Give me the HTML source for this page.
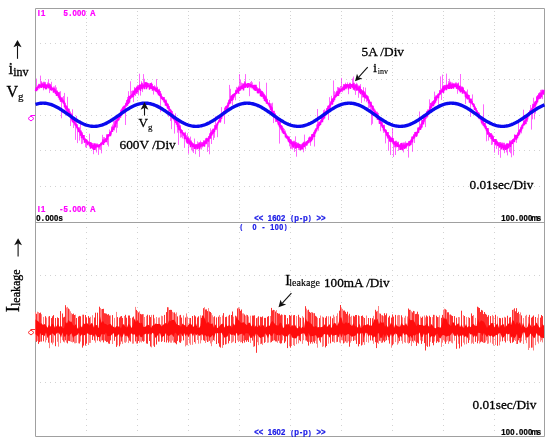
<!DOCTYPE html>
<html><head><meta charset="utf-8"><title>Oscilloscope</title>
<style>.s{fill:#000;stroke:#000;stroke-width:0.3px;font-family:'Liberation Serif',serif}html,body{margin:0;padding:0;background:#fff;width:550px;height:443px;overflow:hidden}svg{display:block}</style>
</head><body>
<svg width="550" height="443" viewBox="0 0 550 443"><path fill="#d2d2d2" d="M86 11h1v1h-1zM86 15h1v1h-1zM86 18h1v1h-1zM86 22h1v1h-1zM86 25h1v1h-1zM86 29h1v1h-1zM86 32h1v1h-1zM86 36h1v1h-1zM86 40h1v1h-1zM86 43h1v1h-1zM86 47h1v1h-1zM86 50h1v1h-1zM86 54h1v1h-1zM86 57h1v1h-1zM86 61h1v1h-1zM86 65h1v1h-1zM86 68h1v1h-1zM86 72h1v1h-1zM86 75h1v1h-1zM86 79h1v1h-1zM86 82h1v1h-1zM86 86h1v1h-1zM86 90h1v1h-1zM86 93h1v1h-1zM86 97h1v1h-1zM86 100h1v1h-1zM86 104h1v1h-1zM86 107h1v1h-1zM86 111h1v1h-1zM86 115h1v1h-1zM86 118h1v1h-1zM86 122h1v1h-1zM86 125h1v1h-1zM86 129h1v1h-1zM86 132h1v1h-1zM86 136h1v1h-1zM86 139h1v1h-1zM86 143h1v1h-1zM86 147h1v1h-1zM86 150h1v1h-1zM86 154h1v1h-1zM86 157h1v1h-1zM86 161h1v1h-1zM86 164h1v1h-1zM86 168h1v1h-1zM86 172h1v1h-1zM86 175h1v1h-1zM86 179h1v1h-1zM86 182h1v1h-1zM86 186h1v1h-1zM86 189h1v1h-1zM86 193h1v1h-1zM86 197h1v1h-1zM86 200h1v1h-1zM86 204h1v1h-1zM86 207h1v1h-1zM86 211h1v1h-1zM86 214h1v1h-1zM86 218h1v1h-1zM86 227h1v1h-1zM86 232h1v1h-1zM86 238h1v1h-1zM86 243h1v1h-1zM86 248h1v1h-1zM86 254h1v1h-1zM86 259h1v1h-1zM86 264h1v1h-1zM86 270h1v1h-1zM86 275h1v1h-1zM86 280h1v1h-1zM86 286h1v1h-1zM86 291h1v1h-1zM86 296h1v1h-1zM86 302h1v1h-1zM86 307h1v1h-1zM86 312h1v1h-1zM86 318h1v1h-1zM86 323h1v1h-1zM86 329h1v1h-1zM86 334h1v1h-1zM86 339h1v1h-1zM86 345h1v1h-1zM86 350h1v1h-1zM86 355h1v1h-1zM86 361h1v1h-1zM86 366h1v1h-1zM86 371h1v1h-1zM86 377h1v1h-1zM86 382h1v1h-1zM86 387h1v1h-1zM86 393h1v1h-1zM86 398h1v1h-1zM86 403h1v1h-1zM86 409h1v1h-1zM86 414h1v1h-1zM86 419h1v1h-1zM86 425h1v1h-1zM86 430h1v1h-1zM137 11h1v1h-1zM137 15h1v1h-1zM137 18h1v1h-1zM137 22h1v1h-1zM137 25h1v1h-1zM137 29h1v1h-1zM137 32h1v1h-1zM137 36h1v1h-1zM137 40h1v1h-1zM137 43h1v1h-1zM137 47h1v1h-1zM137 50h1v1h-1zM137 54h1v1h-1zM137 57h1v1h-1zM137 61h1v1h-1zM137 65h1v1h-1zM137 68h1v1h-1zM137 72h1v1h-1zM137 75h1v1h-1zM137 79h1v1h-1zM137 82h1v1h-1zM137 86h1v1h-1zM137 90h1v1h-1zM137 93h1v1h-1zM137 97h1v1h-1zM137 100h1v1h-1zM137 104h1v1h-1zM137 107h1v1h-1zM137 111h1v1h-1zM137 115h1v1h-1zM137 118h1v1h-1zM137 122h1v1h-1zM137 125h1v1h-1zM137 129h1v1h-1zM137 132h1v1h-1zM137 136h1v1h-1zM137 139h1v1h-1zM137 143h1v1h-1zM137 147h1v1h-1zM137 150h1v1h-1zM137 154h1v1h-1zM137 157h1v1h-1zM137 161h1v1h-1zM137 164h1v1h-1zM137 168h1v1h-1zM137 172h1v1h-1zM137 175h1v1h-1zM137 179h1v1h-1zM137 182h1v1h-1zM137 186h1v1h-1zM137 189h1v1h-1zM137 193h1v1h-1zM137 197h1v1h-1zM137 200h1v1h-1zM137 204h1v1h-1zM137 207h1v1h-1zM137 211h1v1h-1zM137 214h1v1h-1zM137 218h1v1h-1zM137 227h1v1h-1zM137 232h1v1h-1zM137 238h1v1h-1zM137 243h1v1h-1zM137 248h1v1h-1zM137 254h1v1h-1zM137 259h1v1h-1zM137 264h1v1h-1zM137 270h1v1h-1zM137 275h1v1h-1zM137 280h1v1h-1zM137 286h1v1h-1zM137 291h1v1h-1zM137 296h1v1h-1zM137 302h1v1h-1zM137 307h1v1h-1zM137 312h1v1h-1zM137 318h1v1h-1zM137 323h1v1h-1zM137 329h1v1h-1zM137 334h1v1h-1zM137 339h1v1h-1zM137 345h1v1h-1zM137 350h1v1h-1zM137 355h1v1h-1zM137 361h1v1h-1zM137 366h1v1h-1zM137 371h1v1h-1zM137 377h1v1h-1zM137 382h1v1h-1zM137 387h1v1h-1zM137 393h1v1h-1zM137 398h1v1h-1zM137 403h1v1h-1zM137 409h1v1h-1zM137 414h1v1h-1zM137 419h1v1h-1zM137 425h1v1h-1zM137 430h1v1h-1zM188 11h1v1h-1zM188 15h1v1h-1zM188 18h1v1h-1zM188 22h1v1h-1zM188 25h1v1h-1zM188 29h1v1h-1zM188 32h1v1h-1zM188 36h1v1h-1zM188 40h1v1h-1zM188 43h1v1h-1zM188 47h1v1h-1zM188 50h1v1h-1zM188 54h1v1h-1zM188 57h1v1h-1zM188 61h1v1h-1zM188 65h1v1h-1zM188 68h1v1h-1zM188 72h1v1h-1zM188 75h1v1h-1zM188 79h1v1h-1zM188 82h1v1h-1zM188 86h1v1h-1zM188 90h1v1h-1zM188 93h1v1h-1zM188 97h1v1h-1zM188 100h1v1h-1zM188 104h1v1h-1zM188 107h1v1h-1zM188 111h1v1h-1zM188 115h1v1h-1zM188 118h1v1h-1zM188 122h1v1h-1zM188 125h1v1h-1zM188 129h1v1h-1zM188 132h1v1h-1zM188 136h1v1h-1zM188 139h1v1h-1zM188 143h1v1h-1zM188 147h1v1h-1zM188 150h1v1h-1zM188 154h1v1h-1zM188 157h1v1h-1zM188 161h1v1h-1zM188 164h1v1h-1zM188 168h1v1h-1zM188 172h1v1h-1zM188 175h1v1h-1zM188 179h1v1h-1zM188 182h1v1h-1zM188 186h1v1h-1zM188 189h1v1h-1zM188 193h1v1h-1zM188 197h1v1h-1zM188 200h1v1h-1zM188 204h1v1h-1zM188 207h1v1h-1zM188 211h1v1h-1zM188 214h1v1h-1zM188 218h1v1h-1zM188 227h1v1h-1zM188 232h1v1h-1zM188 238h1v1h-1zM188 243h1v1h-1zM188 248h1v1h-1zM188 254h1v1h-1zM188 259h1v1h-1zM188 264h1v1h-1zM188 270h1v1h-1zM188 275h1v1h-1zM188 280h1v1h-1zM188 286h1v1h-1zM188 291h1v1h-1zM188 296h1v1h-1zM188 302h1v1h-1zM188 307h1v1h-1zM188 312h1v1h-1zM188 318h1v1h-1zM188 323h1v1h-1zM188 329h1v1h-1zM188 334h1v1h-1zM188 339h1v1h-1zM188 345h1v1h-1zM188 350h1v1h-1zM188 355h1v1h-1zM188 361h1v1h-1zM188 366h1v1h-1zM188 371h1v1h-1zM188 377h1v1h-1zM188 382h1v1h-1zM188 387h1v1h-1zM188 393h1v1h-1zM188 398h1v1h-1zM188 403h1v1h-1zM188 409h1v1h-1zM188 414h1v1h-1zM188 419h1v1h-1zM188 425h1v1h-1zM188 430h1v1h-1zM239 11h1v1h-1zM239 15h1v1h-1zM239 18h1v1h-1zM239 22h1v1h-1zM239 25h1v1h-1zM239 29h1v1h-1zM239 32h1v1h-1zM239 36h1v1h-1zM239 40h1v1h-1zM239 43h1v1h-1zM239 47h1v1h-1zM239 50h1v1h-1zM239 54h1v1h-1zM239 57h1v1h-1zM239 61h1v1h-1zM239 65h1v1h-1zM239 68h1v1h-1zM239 72h1v1h-1zM239 75h1v1h-1zM239 79h1v1h-1zM239 82h1v1h-1zM239 86h1v1h-1zM239 90h1v1h-1zM239 93h1v1h-1zM239 97h1v1h-1zM239 100h1v1h-1zM239 104h1v1h-1zM239 107h1v1h-1zM239 111h1v1h-1zM239 115h1v1h-1zM239 118h1v1h-1zM239 122h1v1h-1zM239 125h1v1h-1zM239 129h1v1h-1zM239 132h1v1h-1zM239 136h1v1h-1zM239 139h1v1h-1zM239 143h1v1h-1zM239 147h1v1h-1zM239 150h1v1h-1zM239 154h1v1h-1zM239 157h1v1h-1zM239 161h1v1h-1zM239 164h1v1h-1zM239 168h1v1h-1zM239 172h1v1h-1zM239 175h1v1h-1zM239 179h1v1h-1zM239 182h1v1h-1zM239 186h1v1h-1zM239 189h1v1h-1zM239 193h1v1h-1zM239 197h1v1h-1zM239 200h1v1h-1zM239 204h1v1h-1zM239 207h1v1h-1zM239 211h1v1h-1zM239 214h1v1h-1zM239 218h1v1h-1zM239 227h1v1h-1zM239 232h1v1h-1zM239 238h1v1h-1zM239 243h1v1h-1zM239 248h1v1h-1zM239 254h1v1h-1zM239 259h1v1h-1zM239 264h1v1h-1zM239 270h1v1h-1zM239 275h1v1h-1zM239 280h1v1h-1zM239 286h1v1h-1zM239 291h1v1h-1zM239 296h1v1h-1zM239 302h1v1h-1zM239 307h1v1h-1zM239 312h1v1h-1zM239 318h1v1h-1zM239 323h1v1h-1zM239 329h1v1h-1zM239 334h1v1h-1zM239 339h1v1h-1zM239 345h1v1h-1zM239 350h1v1h-1zM239 355h1v1h-1zM239 361h1v1h-1zM239 366h1v1h-1zM239 371h1v1h-1zM239 377h1v1h-1zM239 382h1v1h-1zM239 387h1v1h-1zM239 393h1v1h-1zM239 398h1v1h-1zM239 403h1v1h-1zM239 409h1v1h-1zM239 414h1v1h-1zM239 419h1v1h-1zM239 425h1v1h-1zM239 430h1v1h-1zM290 11h1v1h-1zM290 15h1v1h-1zM290 18h1v1h-1zM290 22h1v1h-1zM290 25h1v1h-1zM290 29h1v1h-1zM290 32h1v1h-1zM290 36h1v1h-1zM290 40h1v1h-1zM290 43h1v1h-1zM290 47h1v1h-1zM290 50h1v1h-1zM290 54h1v1h-1zM290 57h1v1h-1zM290 61h1v1h-1zM290 65h1v1h-1zM290 68h1v1h-1zM290 72h1v1h-1zM290 75h1v1h-1zM290 79h1v1h-1zM290 82h1v1h-1zM290 86h1v1h-1zM290 90h1v1h-1zM290 93h1v1h-1zM290 97h1v1h-1zM290 100h1v1h-1zM290 104h1v1h-1zM290 107h1v1h-1zM290 111h1v1h-1zM290 115h1v1h-1zM290 118h1v1h-1zM290 122h1v1h-1zM290 125h1v1h-1zM290 129h1v1h-1zM290 132h1v1h-1zM290 136h1v1h-1zM290 139h1v1h-1zM290 143h1v1h-1zM290 147h1v1h-1zM290 150h1v1h-1zM290 154h1v1h-1zM290 157h1v1h-1zM290 161h1v1h-1zM290 164h1v1h-1zM290 168h1v1h-1zM290 172h1v1h-1zM290 175h1v1h-1zM290 179h1v1h-1zM290 182h1v1h-1zM290 186h1v1h-1zM290 189h1v1h-1zM290 193h1v1h-1zM290 197h1v1h-1zM290 200h1v1h-1zM290 204h1v1h-1zM290 207h1v1h-1zM290 211h1v1h-1zM290 214h1v1h-1zM290 218h1v1h-1zM290 227h1v1h-1zM290 232h1v1h-1zM290 238h1v1h-1zM290 243h1v1h-1zM290 248h1v1h-1zM290 254h1v1h-1zM290 259h1v1h-1zM290 264h1v1h-1zM290 270h1v1h-1zM290 275h1v1h-1zM290 280h1v1h-1zM290 286h1v1h-1zM290 291h1v1h-1zM290 296h1v1h-1zM290 302h1v1h-1zM290 307h1v1h-1zM290 312h1v1h-1zM290 318h1v1h-1zM290 323h1v1h-1zM290 329h1v1h-1zM290 334h1v1h-1zM290 339h1v1h-1zM290 345h1v1h-1zM290 350h1v1h-1zM290 355h1v1h-1zM290 361h1v1h-1zM290 366h1v1h-1zM290 371h1v1h-1zM290 377h1v1h-1zM290 382h1v1h-1zM290 387h1v1h-1zM290 393h1v1h-1zM290 398h1v1h-1zM290 403h1v1h-1zM290 409h1v1h-1zM290 414h1v1h-1zM290 419h1v1h-1zM290 425h1v1h-1zM290 430h1v1h-1zM341 11h1v1h-1zM341 15h1v1h-1zM341 18h1v1h-1zM341 22h1v1h-1zM341 25h1v1h-1zM341 29h1v1h-1zM341 32h1v1h-1zM341 36h1v1h-1zM341 40h1v1h-1zM341 43h1v1h-1zM341 47h1v1h-1zM341 50h1v1h-1zM341 54h1v1h-1zM341 57h1v1h-1zM341 61h1v1h-1zM341 65h1v1h-1zM341 68h1v1h-1zM341 72h1v1h-1zM341 75h1v1h-1zM341 79h1v1h-1zM341 82h1v1h-1zM341 86h1v1h-1zM341 90h1v1h-1zM341 93h1v1h-1zM341 97h1v1h-1zM341 100h1v1h-1zM341 104h1v1h-1zM341 107h1v1h-1zM341 111h1v1h-1zM341 115h1v1h-1zM341 118h1v1h-1zM341 122h1v1h-1zM341 125h1v1h-1zM341 129h1v1h-1zM341 132h1v1h-1zM341 136h1v1h-1zM341 139h1v1h-1zM341 143h1v1h-1zM341 147h1v1h-1zM341 150h1v1h-1zM341 154h1v1h-1zM341 157h1v1h-1zM341 161h1v1h-1zM341 164h1v1h-1zM341 168h1v1h-1zM341 172h1v1h-1zM341 175h1v1h-1zM341 179h1v1h-1zM341 182h1v1h-1zM341 186h1v1h-1zM341 189h1v1h-1zM341 193h1v1h-1zM341 197h1v1h-1zM341 200h1v1h-1zM341 204h1v1h-1zM341 207h1v1h-1zM341 211h1v1h-1zM341 214h1v1h-1zM341 218h1v1h-1zM341 227h1v1h-1zM341 232h1v1h-1zM341 238h1v1h-1zM341 243h1v1h-1zM341 248h1v1h-1zM341 254h1v1h-1zM341 259h1v1h-1zM341 264h1v1h-1zM341 270h1v1h-1zM341 275h1v1h-1zM341 280h1v1h-1zM341 286h1v1h-1zM341 291h1v1h-1zM341 296h1v1h-1zM341 302h1v1h-1zM341 307h1v1h-1zM341 312h1v1h-1zM341 318h1v1h-1zM341 323h1v1h-1zM341 329h1v1h-1zM341 334h1v1h-1zM341 339h1v1h-1zM341 345h1v1h-1zM341 350h1v1h-1zM341 355h1v1h-1zM341 361h1v1h-1zM341 366h1v1h-1zM341 371h1v1h-1zM341 377h1v1h-1zM341 382h1v1h-1zM341 387h1v1h-1zM341 393h1v1h-1zM341 398h1v1h-1zM341 403h1v1h-1zM341 409h1v1h-1zM341 414h1v1h-1zM341 419h1v1h-1zM341 425h1v1h-1zM341 430h1v1h-1zM392 11h1v1h-1zM392 15h1v1h-1zM392 18h1v1h-1zM392 22h1v1h-1zM392 25h1v1h-1zM392 29h1v1h-1zM392 32h1v1h-1zM392 36h1v1h-1zM392 40h1v1h-1zM392 43h1v1h-1zM392 47h1v1h-1zM392 50h1v1h-1zM392 54h1v1h-1zM392 57h1v1h-1zM392 61h1v1h-1zM392 65h1v1h-1zM392 68h1v1h-1zM392 72h1v1h-1zM392 75h1v1h-1zM392 79h1v1h-1zM392 82h1v1h-1zM392 86h1v1h-1zM392 90h1v1h-1zM392 93h1v1h-1zM392 97h1v1h-1zM392 100h1v1h-1zM392 104h1v1h-1zM392 107h1v1h-1zM392 111h1v1h-1zM392 115h1v1h-1zM392 118h1v1h-1zM392 122h1v1h-1zM392 125h1v1h-1zM392 129h1v1h-1zM392 132h1v1h-1zM392 136h1v1h-1zM392 139h1v1h-1zM392 143h1v1h-1zM392 147h1v1h-1zM392 150h1v1h-1zM392 154h1v1h-1zM392 157h1v1h-1zM392 161h1v1h-1zM392 164h1v1h-1zM392 168h1v1h-1zM392 172h1v1h-1zM392 175h1v1h-1zM392 179h1v1h-1zM392 182h1v1h-1zM392 186h1v1h-1zM392 189h1v1h-1zM392 193h1v1h-1zM392 197h1v1h-1zM392 200h1v1h-1zM392 204h1v1h-1zM392 207h1v1h-1zM392 211h1v1h-1zM392 214h1v1h-1zM392 218h1v1h-1zM392 227h1v1h-1zM392 232h1v1h-1zM392 238h1v1h-1zM392 243h1v1h-1zM392 248h1v1h-1zM392 254h1v1h-1zM392 259h1v1h-1zM392 264h1v1h-1zM392 270h1v1h-1zM392 275h1v1h-1zM392 280h1v1h-1zM392 286h1v1h-1zM392 291h1v1h-1zM392 296h1v1h-1zM392 302h1v1h-1zM392 307h1v1h-1zM392 312h1v1h-1zM392 318h1v1h-1zM392 323h1v1h-1zM392 329h1v1h-1zM392 334h1v1h-1zM392 339h1v1h-1zM392 345h1v1h-1zM392 350h1v1h-1zM392 355h1v1h-1zM392 361h1v1h-1zM392 366h1v1h-1zM392 371h1v1h-1zM392 377h1v1h-1zM392 382h1v1h-1zM392 387h1v1h-1zM392 393h1v1h-1zM392 398h1v1h-1zM392 403h1v1h-1zM392 409h1v1h-1zM392 414h1v1h-1zM392 419h1v1h-1zM392 425h1v1h-1zM392 430h1v1h-1zM443 11h1v1h-1zM443 15h1v1h-1zM443 18h1v1h-1zM443 22h1v1h-1zM443 25h1v1h-1zM443 29h1v1h-1zM443 32h1v1h-1zM443 36h1v1h-1zM443 40h1v1h-1zM443 43h1v1h-1zM443 47h1v1h-1zM443 50h1v1h-1zM443 54h1v1h-1zM443 57h1v1h-1zM443 61h1v1h-1zM443 65h1v1h-1zM443 68h1v1h-1zM443 72h1v1h-1zM443 75h1v1h-1zM443 79h1v1h-1zM443 82h1v1h-1zM443 86h1v1h-1zM443 90h1v1h-1zM443 93h1v1h-1zM443 97h1v1h-1zM443 100h1v1h-1zM443 104h1v1h-1zM443 107h1v1h-1zM443 111h1v1h-1zM443 115h1v1h-1zM443 118h1v1h-1zM443 122h1v1h-1zM443 125h1v1h-1zM443 129h1v1h-1zM443 132h1v1h-1zM443 136h1v1h-1zM443 139h1v1h-1zM443 143h1v1h-1zM443 147h1v1h-1zM443 150h1v1h-1zM443 154h1v1h-1zM443 157h1v1h-1zM443 161h1v1h-1zM443 164h1v1h-1zM443 168h1v1h-1zM443 172h1v1h-1zM443 175h1v1h-1zM443 179h1v1h-1zM443 182h1v1h-1zM443 186h1v1h-1zM443 189h1v1h-1zM443 193h1v1h-1zM443 197h1v1h-1zM443 200h1v1h-1zM443 204h1v1h-1zM443 207h1v1h-1zM443 211h1v1h-1zM443 214h1v1h-1zM443 218h1v1h-1zM443 227h1v1h-1zM443 232h1v1h-1zM443 238h1v1h-1zM443 243h1v1h-1zM443 248h1v1h-1zM443 254h1v1h-1zM443 259h1v1h-1zM443 264h1v1h-1zM443 270h1v1h-1zM443 275h1v1h-1zM443 280h1v1h-1zM443 286h1v1h-1zM443 291h1v1h-1zM443 296h1v1h-1zM443 302h1v1h-1zM443 307h1v1h-1zM443 312h1v1h-1zM443 318h1v1h-1zM443 323h1v1h-1zM443 329h1v1h-1zM443 334h1v1h-1zM443 339h1v1h-1zM443 345h1v1h-1zM443 350h1v1h-1zM443 355h1v1h-1zM443 361h1v1h-1zM443 366h1v1h-1zM443 371h1v1h-1zM443 377h1v1h-1zM443 382h1v1h-1zM443 387h1v1h-1zM443 393h1v1h-1zM443 398h1v1h-1zM443 403h1v1h-1zM443 409h1v1h-1zM443 414h1v1h-1zM443 419h1v1h-1zM443 425h1v1h-1zM443 430h1v1h-1zM494 11h1v1h-1zM494 15h1v1h-1zM494 18h1v1h-1zM494 22h1v1h-1zM494 25h1v1h-1zM494 29h1v1h-1zM494 32h1v1h-1zM494 36h1v1h-1zM494 40h1v1h-1zM494 43h1v1h-1zM494 47h1v1h-1zM494 50h1v1h-1zM494 54h1v1h-1zM494 57h1v1h-1zM494 61h1v1h-1zM494 65h1v1h-1zM494 68h1v1h-1zM494 72h1v1h-1zM494 75h1v1h-1zM494 79h1v1h-1zM494 82h1v1h-1zM494 86h1v1h-1zM494 90h1v1h-1zM494 93h1v1h-1zM494 97h1v1h-1zM494 100h1v1h-1zM494 104h1v1h-1zM494 107h1v1h-1zM494 111h1v1h-1zM494 115h1v1h-1zM494 118h1v1h-1zM494 122h1v1h-1zM494 125h1v1h-1zM494 129h1v1h-1zM494 132h1v1h-1zM494 136h1v1h-1zM494 139h1v1h-1zM494 143h1v1h-1zM494 147h1v1h-1zM494 150h1v1h-1zM494 154h1v1h-1zM494 157h1v1h-1zM494 161h1v1h-1zM494 164h1v1h-1zM494 168h1v1h-1zM494 172h1v1h-1zM494 175h1v1h-1zM494 179h1v1h-1zM494 182h1v1h-1zM494 186h1v1h-1zM494 189h1v1h-1zM494 193h1v1h-1zM494 197h1v1h-1zM494 200h1v1h-1zM494 204h1v1h-1zM494 207h1v1h-1zM494 211h1v1h-1zM494 214h1v1h-1zM494 218h1v1h-1zM494 227h1v1h-1zM494 232h1v1h-1zM494 238h1v1h-1zM494 243h1v1h-1zM494 248h1v1h-1zM494 254h1v1h-1zM494 259h1v1h-1zM494 264h1v1h-1zM494 270h1v1h-1zM494 275h1v1h-1zM494 280h1v1h-1zM494 286h1v1h-1zM494 291h1v1h-1zM494 296h1v1h-1zM494 302h1v1h-1zM494 307h1v1h-1zM494 312h1v1h-1zM494 318h1v1h-1zM494 323h1v1h-1zM494 329h1v1h-1zM494 334h1v1h-1zM494 339h1v1h-1zM494 345h1v1h-1zM494 350h1v1h-1zM494 355h1v1h-1zM494 361h1v1h-1zM494 366h1v1h-1zM494 371h1v1h-1zM494 377h1v1h-1zM494 382h1v1h-1zM494 387h1v1h-1zM494 393h1v1h-1zM494 398h1v1h-1zM494 403h1v1h-1zM494 409h1v1h-1zM494 414h1v1h-1zM494 419h1v1h-1zM494 425h1v1h-1zM494 430h1v1h-1zM40 43h1v1h-1zM45 43h1v1h-1zM50 43h1v1h-1zM55 43h1v1h-1zM60 43h1v1h-1zM65 43h1v1h-1zM70 43h1v1h-1zM75 43h1v1h-1zM80 43h1v1h-1zM86 43h1v1h-1zM91 43h1v1h-1zM96 43h1v1h-1zM101 43h1v1h-1zM106 43h1v1h-1zM111 43h1v1h-1zM116 43h1v1h-1zM121 43h1v1h-1zM126 43h1v1h-1zM131 43h1v1h-1zM137 43h1v1h-1zM142 43h1v1h-1zM147 43h1v1h-1zM152 43h1v1h-1zM157 43h1v1h-1zM162 43h1v1h-1zM167 43h1v1h-1zM172 43h1v1h-1zM177 43h1v1h-1zM182 43h1v1h-1zM188 43h1v1h-1zM193 43h1v1h-1zM198 43h1v1h-1zM203 43h1v1h-1zM208 43h1v1h-1zM213 43h1v1h-1zM218 43h1v1h-1zM223 43h1v1h-1zM228 43h1v1h-1zM233 43h1v1h-1zM239 43h1v1h-1zM244 43h1v1h-1zM249 43h1v1h-1zM254 43h1v1h-1zM259 43h1v1h-1zM264 43h1v1h-1zM269 43h1v1h-1zM274 43h1v1h-1zM279 43h1v1h-1zM284 43h1v1h-1zM290 43h1v1h-1zM295 43h1v1h-1zM300 43h1v1h-1zM305 43h1v1h-1zM310 43h1v1h-1zM315 43h1v1h-1zM320 43h1v1h-1zM325 43h1v1h-1zM330 43h1v1h-1zM335 43h1v1h-1zM341 43h1v1h-1zM346 43h1v1h-1zM351 43h1v1h-1zM356 43h1v1h-1zM361 43h1v1h-1zM366 43h1v1h-1zM371 43h1v1h-1zM376 43h1v1h-1zM381 43h1v1h-1zM386 43h1v1h-1zM392 43h1v1h-1zM397 43h1v1h-1zM402 43h1v1h-1zM407 43h1v1h-1zM412 43h1v1h-1zM417 43h1v1h-1zM422 43h1v1h-1zM427 43h1v1h-1zM432 43h1v1h-1zM437 43h1v1h-1zM443 43h1v1h-1zM448 43h1v1h-1zM453 43h1v1h-1zM458 43h1v1h-1zM463 43h1v1h-1zM468 43h1v1h-1zM473 43h1v1h-1zM478 43h1v1h-1zM483 43h1v1h-1zM488 43h1v1h-1zM494 43h1v1h-1zM499 43h1v1h-1zM504 43h1v1h-1zM509 43h1v1h-1zM514 43h1v1h-1zM519 43h1v1h-1zM524 43h1v1h-1zM529 43h1v1h-1zM534 43h1v1h-1zM539 43h1v1h-1zM40 79h1v1h-1zM45 79h1v1h-1zM50 79h1v1h-1zM55 79h1v1h-1zM60 79h1v1h-1zM65 79h1v1h-1zM70 79h1v1h-1zM75 79h1v1h-1zM80 79h1v1h-1zM86 79h1v1h-1zM91 79h1v1h-1zM96 79h1v1h-1zM101 79h1v1h-1zM106 79h1v1h-1zM111 79h1v1h-1zM116 79h1v1h-1zM121 79h1v1h-1zM126 79h1v1h-1zM131 79h1v1h-1zM137 79h1v1h-1zM142 79h1v1h-1zM147 79h1v1h-1zM152 79h1v1h-1zM157 79h1v1h-1zM162 79h1v1h-1zM167 79h1v1h-1zM172 79h1v1h-1zM177 79h1v1h-1zM182 79h1v1h-1zM188 79h1v1h-1zM193 79h1v1h-1zM198 79h1v1h-1zM203 79h1v1h-1zM208 79h1v1h-1zM213 79h1v1h-1zM218 79h1v1h-1zM223 79h1v1h-1zM228 79h1v1h-1zM233 79h1v1h-1zM239 79h1v1h-1zM244 79h1v1h-1zM249 79h1v1h-1zM254 79h1v1h-1zM259 79h1v1h-1zM264 79h1v1h-1zM269 79h1v1h-1zM274 79h1v1h-1zM279 79h1v1h-1zM284 79h1v1h-1zM290 79h1v1h-1zM295 79h1v1h-1zM300 79h1v1h-1zM305 79h1v1h-1zM310 79h1v1h-1zM315 79h1v1h-1zM320 79h1v1h-1zM325 79h1v1h-1zM330 79h1v1h-1zM335 79h1v1h-1zM341 79h1v1h-1zM346 79h1v1h-1zM351 79h1v1h-1zM356 79h1v1h-1zM361 79h1v1h-1zM366 79h1v1h-1zM371 79h1v1h-1zM376 79h1v1h-1zM381 79h1v1h-1zM386 79h1v1h-1zM392 79h1v1h-1zM397 79h1v1h-1zM402 79h1v1h-1zM407 79h1v1h-1zM412 79h1v1h-1zM417 79h1v1h-1zM422 79h1v1h-1zM427 79h1v1h-1zM432 79h1v1h-1zM437 79h1v1h-1zM443 79h1v1h-1zM448 79h1v1h-1zM453 79h1v1h-1zM458 79h1v1h-1zM463 79h1v1h-1zM468 79h1v1h-1zM473 79h1v1h-1zM478 79h1v1h-1zM483 79h1v1h-1zM488 79h1v1h-1zM494 79h1v1h-1zM499 79h1v1h-1zM504 79h1v1h-1zM509 79h1v1h-1zM514 79h1v1h-1zM519 79h1v1h-1zM524 79h1v1h-1zM529 79h1v1h-1zM534 79h1v1h-1zM539 79h1v1h-1zM40 115h1v1h-1zM45 115h1v1h-1zM50 115h1v1h-1zM55 115h1v1h-1zM60 115h1v1h-1zM65 115h1v1h-1zM70 115h1v1h-1zM75 115h1v1h-1zM80 115h1v1h-1zM86 115h1v1h-1zM91 115h1v1h-1zM96 115h1v1h-1zM101 115h1v1h-1zM106 115h1v1h-1zM111 115h1v1h-1zM116 115h1v1h-1zM121 115h1v1h-1zM126 115h1v1h-1zM131 115h1v1h-1zM137 115h1v1h-1zM142 115h1v1h-1zM147 115h1v1h-1zM152 115h1v1h-1zM157 115h1v1h-1zM162 115h1v1h-1zM167 115h1v1h-1zM172 115h1v1h-1zM177 115h1v1h-1zM182 115h1v1h-1zM188 115h1v1h-1zM193 115h1v1h-1zM198 115h1v1h-1zM203 115h1v1h-1zM208 115h1v1h-1zM213 115h1v1h-1zM218 115h1v1h-1zM223 115h1v1h-1zM228 115h1v1h-1zM233 115h1v1h-1zM239 115h1v1h-1zM244 115h1v1h-1zM249 115h1v1h-1zM254 115h1v1h-1zM259 115h1v1h-1zM264 115h1v1h-1zM269 115h1v1h-1zM274 115h1v1h-1zM279 115h1v1h-1zM284 115h1v1h-1zM290 115h1v1h-1zM295 115h1v1h-1zM300 115h1v1h-1zM305 115h1v1h-1zM310 115h1v1h-1zM315 115h1v1h-1zM320 115h1v1h-1zM325 115h1v1h-1zM330 115h1v1h-1zM335 115h1v1h-1zM341 115h1v1h-1zM346 115h1v1h-1zM351 115h1v1h-1zM356 115h1v1h-1zM361 115h1v1h-1zM366 115h1v1h-1zM371 115h1v1h-1zM376 115h1v1h-1zM381 115h1v1h-1zM386 115h1v1h-1zM392 115h1v1h-1zM397 115h1v1h-1zM402 115h1v1h-1zM407 115h1v1h-1zM412 115h1v1h-1zM417 115h1v1h-1zM422 115h1v1h-1zM427 115h1v1h-1zM432 115h1v1h-1zM437 115h1v1h-1zM443 115h1v1h-1zM448 115h1v1h-1zM453 115h1v1h-1zM458 115h1v1h-1zM463 115h1v1h-1zM468 115h1v1h-1zM473 115h1v1h-1zM478 115h1v1h-1zM483 115h1v1h-1zM488 115h1v1h-1zM494 115h1v1h-1zM499 115h1v1h-1zM504 115h1v1h-1zM509 115h1v1h-1zM514 115h1v1h-1zM519 115h1v1h-1zM524 115h1v1h-1zM529 115h1v1h-1zM534 115h1v1h-1zM539 115h1v1h-1zM40 150h1v1h-1zM45 150h1v1h-1zM50 150h1v1h-1zM55 150h1v1h-1zM60 150h1v1h-1zM65 150h1v1h-1zM70 150h1v1h-1zM75 150h1v1h-1zM80 150h1v1h-1zM86 150h1v1h-1zM91 150h1v1h-1zM96 150h1v1h-1zM101 150h1v1h-1zM106 150h1v1h-1zM111 150h1v1h-1zM116 150h1v1h-1zM121 150h1v1h-1zM126 150h1v1h-1zM131 150h1v1h-1zM137 150h1v1h-1zM142 150h1v1h-1zM147 150h1v1h-1zM152 150h1v1h-1zM157 150h1v1h-1zM162 150h1v1h-1zM167 150h1v1h-1zM172 150h1v1h-1zM177 150h1v1h-1zM182 150h1v1h-1zM188 150h1v1h-1zM193 150h1v1h-1zM198 150h1v1h-1zM203 150h1v1h-1zM208 150h1v1h-1zM213 150h1v1h-1zM218 150h1v1h-1zM223 150h1v1h-1zM228 150h1v1h-1zM233 150h1v1h-1zM239 150h1v1h-1zM244 150h1v1h-1zM249 150h1v1h-1zM254 150h1v1h-1zM259 150h1v1h-1zM264 150h1v1h-1zM269 150h1v1h-1zM274 150h1v1h-1zM279 150h1v1h-1zM284 150h1v1h-1zM290 150h1v1h-1zM295 150h1v1h-1zM300 150h1v1h-1zM305 150h1v1h-1zM310 150h1v1h-1zM315 150h1v1h-1zM320 150h1v1h-1zM325 150h1v1h-1zM330 150h1v1h-1zM335 150h1v1h-1zM341 150h1v1h-1zM346 150h1v1h-1zM351 150h1v1h-1zM356 150h1v1h-1zM361 150h1v1h-1zM366 150h1v1h-1zM371 150h1v1h-1zM376 150h1v1h-1zM381 150h1v1h-1zM386 150h1v1h-1zM392 150h1v1h-1zM397 150h1v1h-1zM402 150h1v1h-1zM407 150h1v1h-1zM412 150h1v1h-1zM417 150h1v1h-1zM422 150h1v1h-1zM427 150h1v1h-1zM432 150h1v1h-1zM437 150h1v1h-1zM443 150h1v1h-1zM448 150h1v1h-1zM453 150h1v1h-1zM458 150h1v1h-1zM463 150h1v1h-1zM468 150h1v1h-1zM473 150h1v1h-1zM478 150h1v1h-1zM483 150h1v1h-1zM488 150h1v1h-1zM494 150h1v1h-1zM499 150h1v1h-1zM504 150h1v1h-1zM509 150h1v1h-1zM514 150h1v1h-1zM519 150h1v1h-1zM524 150h1v1h-1zM529 150h1v1h-1zM534 150h1v1h-1zM539 150h1v1h-1zM40 186h1v1h-1zM45 186h1v1h-1zM50 186h1v1h-1zM55 186h1v1h-1zM60 186h1v1h-1zM65 186h1v1h-1zM70 186h1v1h-1zM75 186h1v1h-1zM80 186h1v1h-1zM86 186h1v1h-1zM91 186h1v1h-1zM96 186h1v1h-1zM101 186h1v1h-1zM106 186h1v1h-1zM111 186h1v1h-1zM116 186h1v1h-1zM121 186h1v1h-1zM126 186h1v1h-1zM131 186h1v1h-1zM137 186h1v1h-1zM142 186h1v1h-1zM147 186h1v1h-1zM152 186h1v1h-1zM157 186h1v1h-1zM162 186h1v1h-1zM167 186h1v1h-1zM172 186h1v1h-1zM177 186h1v1h-1zM182 186h1v1h-1zM188 186h1v1h-1zM193 186h1v1h-1zM198 186h1v1h-1zM203 186h1v1h-1zM208 186h1v1h-1zM213 186h1v1h-1zM218 186h1v1h-1zM223 186h1v1h-1zM228 186h1v1h-1zM233 186h1v1h-1zM239 186h1v1h-1zM244 186h1v1h-1zM249 186h1v1h-1zM254 186h1v1h-1zM259 186h1v1h-1zM264 186h1v1h-1zM269 186h1v1h-1zM274 186h1v1h-1zM279 186h1v1h-1zM284 186h1v1h-1zM290 186h1v1h-1zM295 186h1v1h-1zM300 186h1v1h-1zM305 186h1v1h-1zM310 186h1v1h-1zM315 186h1v1h-1zM320 186h1v1h-1zM325 186h1v1h-1zM330 186h1v1h-1zM335 186h1v1h-1zM341 186h1v1h-1zM346 186h1v1h-1zM351 186h1v1h-1zM356 186h1v1h-1zM361 186h1v1h-1zM366 186h1v1h-1zM371 186h1v1h-1zM376 186h1v1h-1zM381 186h1v1h-1zM386 186h1v1h-1zM392 186h1v1h-1zM397 186h1v1h-1zM402 186h1v1h-1zM407 186h1v1h-1zM412 186h1v1h-1zM417 186h1v1h-1zM422 186h1v1h-1zM427 186h1v1h-1zM432 186h1v1h-1zM437 186h1v1h-1zM443 186h1v1h-1zM448 186h1v1h-1zM453 186h1v1h-1zM458 186h1v1h-1zM463 186h1v1h-1zM468 186h1v1h-1zM473 186h1v1h-1zM478 186h1v1h-1zM483 186h1v1h-1zM488 186h1v1h-1zM494 186h1v1h-1zM499 186h1v1h-1zM504 186h1v1h-1zM509 186h1v1h-1zM514 186h1v1h-1zM519 186h1v1h-1zM524 186h1v1h-1zM529 186h1v1h-1zM534 186h1v1h-1zM539 186h1v1h-1zM40 275h1v1h-1zM45 275h1v1h-1zM50 275h1v1h-1zM55 275h1v1h-1zM60 275h1v1h-1zM65 275h1v1h-1zM70 275h1v1h-1zM75 275h1v1h-1zM80 275h1v1h-1zM86 275h1v1h-1zM91 275h1v1h-1zM96 275h1v1h-1zM101 275h1v1h-1zM106 275h1v1h-1zM111 275h1v1h-1zM116 275h1v1h-1zM121 275h1v1h-1zM126 275h1v1h-1zM131 275h1v1h-1zM137 275h1v1h-1zM142 275h1v1h-1zM147 275h1v1h-1zM152 275h1v1h-1zM157 275h1v1h-1zM162 275h1v1h-1zM167 275h1v1h-1zM172 275h1v1h-1zM177 275h1v1h-1zM182 275h1v1h-1zM188 275h1v1h-1zM193 275h1v1h-1zM198 275h1v1h-1zM203 275h1v1h-1zM208 275h1v1h-1zM213 275h1v1h-1zM218 275h1v1h-1zM223 275h1v1h-1zM228 275h1v1h-1zM233 275h1v1h-1zM239 275h1v1h-1zM244 275h1v1h-1zM249 275h1v1h-1zM254 275h1v1h-1zM259 275h1v1h-1zM264 275h1v1h-1zM269 275h1v1h-1zM274 275h1v1h-1zM279 275h1v1h-1zM284 275h1v1h-1zM290 275h1v1h-1zM295 275h1v1h-1zM300 275h1v1h-1zM305 275h1v1h-1zM310 275h1v1h-1zM315 275h1v1h-1zM320 275h1v1h-1zM325 275h1v1h-1zM330 275h1v1h-1zM335 275h1v1h-1zM341 275h1v1h-1zM346 275h1v1h-1zM351 275h1v1h-1zM356 275h1v1h-1zM361 275h1v1h-1zM366 275h1v1h-1zM371 275h1v1h-1zM376 275h1v1h-1zM381 275h1v1h-1zM386 275h1v1h-1zM392 275h1v1h-1zM397 275h1v1h-1zM402 275h1v1h-1zM407 275h1v1h-1zM412 275h1v1h-1zM417 275h1v1h-1zM422 275h1v1h-1zM427 275h1v1h-1zM432 275h1v1h-1zM437 275h1v1h-1zM443 275h1v1h-1zM448 275h1v1h-1zM453 275h1v1h-1zM458 275h1v1h-1zM463 275h1v1h-1zM468 275h1v1h-1zM473 275h1v1h-1zM478 275h1v1h-1zM483 275h1v1h-1zM488 275h1v1h-1zM494 275h1v1h-1zM499 275h1v1h-1zM504 275h1v1h-1zM509 275h1v1h-1zM514 275h1v1h-1zM519 275h1v1h-1zM524 275h1v1h-1zM529 275h1v1h-1zM534 275h1v1h-1zM539 275h1v1h-1zM40 329h1v1h-1zM45 329h1v1h-1zM50 329h1v1h-1zM55 329h1v1h-1zM60 329h1v1h-1zM65 329h1v1h-1zM70 329h1v1h-1zM75 329h1v1h-1zM80 329h1v1h-1zM86 329h1v1h-1zM91 329h1v1h-1zM96 329h1v1h-1zM101 329h1v1h-1zM106 329h1v1h-1zM111 329h1v1h-1zM116 329h1v1h-1zM121 329h1v1h-1zM126 329h1v1h-1zM131 329h1v1h-1zM137 329h1v1h-1zM142 329h1v1h-1zM147 329h1v1h-1zM152 329h1v1h-1zM157 329h1v1h-1zM162 329h1v1h-1zM167 329h1v1h-1zM172 329h1v1h-1zM177 329h1v1h-1zM182 329h1v1h-1zM188 329h1v1h-1zM193 329h1v1h-1zM198 329h1v1h-1zM203 329h1v1h-1zM208 329h1v1h-1zM213 329h1v1h-1zM218 329h1v1h-1zM223 329h1v1h-1zM228 329h1v1h-1zM233 329h1v1h-1zM239 329h1v1h-1zM244 329h1v1h-1zM249 329h1v1h-1zM254 329h1v1h-1zM259 329h1v1h-1zM264 329h1v1h-1zM269 329h1v1h-1zM274 329h1v1h-1zM279 329h1v1h-1zM284 329h1v1h-1zM290 329h1v1h-1zM295 329h1v1h-1zM300 329h1v1h-1zM305 329h1v1h-1zM310 329h1v1h-1zM315 329h1v1h-1zM320 329h1v1h-1zM325 329h1v1h-1zM330 329h1v1h-1zM335 329h1v1h-1zM341 329h1v1h-1zM346 329h1v1h-1zM351 329h1v1h-1zM356 329h1v1h-1zM361 329h1v1h-1zM366 329h1v1h-1zM371 329h1v1h-1zM376 329h1v1h-1zM381 329h1v1h-1zM386 329h1v1h-1zM392 329h1v1h-1zM397 329h1v1h-1zM402 329h1v1h-1zM407 329h1v1h-1zM412 329h1v1h-1zM417 329h1v1h-1zM422 329h1v1h-1zM427 329h1v1h-1zM432 329h1v1h-1zM437 329h1v1h-1zM443 329h1v1h-1zM448 329h1v1h-1zM453 329h1v1h-1zM458 329h1v1h-1zM463 329h1v1h-1zM468 329h1v1h-1zM473 329h1v1h-1zM478 329h1v1h-1zM483 329h1v1h-1zM488 329h1v1h-1zM494 329h1v1h-1zM499 329h1v1h-1zM504 329h1v1h-1zM509 329h1v1h-1zM514 329h1v1h-1zM519 329h1v1h-1zM524 329h1v1h-1zM529 329h1v1h-1zM534 329h1v1h-1zM539 329h1v1h-1zM40 382h1v1h-1zM45 382h1v1h-1zM50 382h1v1h-1zM55 382h1v1h-1zM60 382h1v1h-1zM65 382h1v1h-1zM70 382h1v1h-1zM75 382h1v1h-1zM80 382h1v1h-1zM86 382h1v1h-1zM91 382h1v1h-1zM96 382h1v1h-1zM101 382h1v1h-1zM106 382h1v1h-1zM111 382h1v1h-1zM116 382h1v1h-1zM121 382h1v1h-1zM126 382h1v1h-1zM131 382h1v1h-1zM137 382h1v1h-1zM142 382h1v1h-1zM147 382h1v1h-1zM152 382h1v1h-1zM157 382h1v1h-1zM162 382h1v1h-1zM167 382h1v1h-1zM172 382h1v1h-1zM177 382h1v1h-1zM182 382h1v1h-1zM188 382h1v1h-1zM193 382h1v1h-1zM198 382h1v1h-1zM203 382h1v1h-1zM208 382h1v1h-1zM213 382h1v1h-1zM218 382h1v1h-1zM223 382h1v1h-1zM228 382h1v1h-1zM233 382h1v1h-1zM239 382h1v1h-1zM244 382h1v1h-1zM249 382h1v1h-1zM254 382h1v1h-1zM259 382h1v1h-1zM264 382h1v1h-1zM269 382h1v1h-1zM274 382h1v1h-1zM279 382h1v1h-1zM284 382h1v1h-1zM290 382h1v1h-1zM295 382h1v1h-1zM300 382h1v1h-1zM305 382h1v1h-1zM310 382h1v1h-1zM315 382h1v1h-1zM320 382h1v1h-1zM325 382h1v1h-1zM330 382h1v1h-1zM335 382h1v1h-1zM341 382h1v1h-1zM346 382h1v1h-1zM351 382h1v1h-1zM356 382h1v1h-1zM361 382h1v1h-1zM366 382h1v1h-1zM371 382h1v1h-1zM376 382h1v1h-1zM381 382h1v1h-1zM386 382h1v1h-1zM392 382h1v1h-1zM397 382h1v1h-1zM402 382h1v1h-1zM407 382h1v1h-1zM412 382h1v1h-1zM417 382h1v1h-1zM422 382h1v1h-1zM427 382h1v1h-1zM432 382h1v1h-1zM437 382h1v1h-1zM443 382h1v1h-1zM448 382h1v1h-1zM453 382h1v1h-1zM458 382h1v1h-1zM463 382h1v1h-1zM468 382h1v1h-1zM473 382h1v1h-1zM478 382h1v1h-1zM483 382h1v1h-1zM488 382h1v1h-1zM494 382h1v1h-1zM499 382h1v1h-1zM504 382h1v1h-1zM509 382h1v1h-1zM514 382h1v1h-1zM519 382h1v1h-1zM524 382h1v1h-1zM529 382h1v1h-1zM534 382h1v1h-1zM539 382h1v1h-1z"/>
<path fill="none" stroke="#a0a0a0" stroke-width="1" d="M35.5 8.5H544.5V436.5H35.5Z M35.5 222.5H544.5"/>
<polyline fill="none" stroke="#ff00ff" stroke-width="1.4" stroke-linejoin="bevel" points="35.5,91.0 36.0,87.6 36.5,91.2 37.0,87.0 37.5,90.1 38.0,85.5 38.5,88.1 39.0,84.5 39.5,87.5 40.0,84.3 40.5,87.2 41.0,84.9 41.5,87.9 42.0,82.5 42.5,86.8 43.0,84.1 43.5,88.2 44.0,81.9 44.5,88.0 45.0,83.5 45.5,89.3 46.0,84.7 46.5,89.1 47.0,84.2 47.5,87.3 48.0,85.1 48.5,88.2 49.0,83.4 49.5,88.2 50.0,84.6 50.5,90.2 51.0,85.9 51.5,90.6 52.0,87.5 52.5,89.9 53.0,87.9 53.5,92.6 54.0,88.1 54.5,92.4 55.0,88.7 55.5,93.9 56.0,90.6 56.5,96.0 57.0,90.5 57.5,95.6 58.0,92.1 58.5,97.7 59.0,92.6 59.5,99.7 60.0,95.7 60.5,101.8 61.0,97.7 61.5,101.6 62.0,97.3 62.5,102.4 63.0,99.7 63.5,103.7 64.0,100.8 64.5,107.5 65.0,102.7 65.5,109.5 66.0,105.2 66.5,110.8 67.0,106.2 67.5,112.2 68.0,108.4 68.5,114.8 69.0,108.8 69.5,115.6 70.0,111.5 70.5,116.2 71.0,113.2 71.5,119.8 72.0,114.2 72.5,122.2 73.0,118.2 73.5,122.8 74.0,119.0 74.5,123.6 75.0,121.4 75.5,125.9 76.0,124.3 76.5,127.4 77.0,124.2 77.5,129.4 78.0,127.5 78.5,131.9 79.0,127.4 79.5,132.7 80.0,130.3 80.5,135.7 81.0,130.6 81.5,138.1 82.0,132.2 82.5,138.0 83.0,135.0 83.5,139.6 84.0,135.0 84.5,142.8 85.0,138.5 85.5,141.7 86.0,139.4 86.5,143.0 87.0,139.7 87.5,145.1 88.0,141.4 88.5,144.2 89.0,141.8 89.5,146.2 90.0,142.1 90.5,148.6 91.0,142.4 91.5,147.9 92.0,143.1 92.5,148.8 93.0,145.2 93.5,149.8 94.0,143.2 94.5,149.9 95.0,143.3 95.5,148.5 96.0,144.5 96.5,147.5 97.0,143.6 97.5,147.2 98.0,145.0 98.5,147.3 99.0,144.4 99.5,147.2 100.0,144.1 100.5,145.6 101.0,143.2 101.5,145.2 102.0,141.8 102.5,144.1 103.0,139.3 103.5,144.9 104.0,140.5 104.5,142.8 105.0,138.8 105.5,141.9 106.0,138.2 106.5,142.1 107.0,134.3 107.5,139.6 108.0,134.4 108.5,137.0 109.0,134.1 109.5,136.2 110.0,132.0 110.5,136.1 111.0,130.7 111.5,132.0 112.0,126.6 112.5,131.8 113.0,127.3 113.5,130.0 114.0,125.8 114.5,128.2 115.0,121.1 115.5,127.3 116.0,120.1 116.5,123.7 117.0,119.2 117.5,121.5 118.0,116.1 118.5,120.7 119.0,114.2 119.5,118.2 120.0,114.0 120.5,117.7 121.0,109.8 121.5,116.0 122.0,108.5 122.5,114.0 123.0,106.8 123.5,110.4 124.0,105.7 124.5,109.0 125.0,105.4 125.5,106.3 126.0,102.9 126.5,105.3 127.0,100.0 127.5,105.7 128.0,99.1 128.5,104.0 129.0,95.9 129.5,102.6 130.0,96.2 130.5,98.9 131.0,95.2 131.5,97.4 132.0,93.9 132.5,97.4 133.0,90.6 133.5,96.8 134.0,90.6 134.5,95.0 135.0,88.5 135.5,92.3 136.0,87.9 136.5,93.7 137.0,86.6 137.5,92.4 138.0,86.7 138.5,89.8 139.0,85.0 139.5,89.6 140.0,84.3 140.5,90.9 141.0,84.9 141.5,88.6 142.0,82.8 142.5,89.2 143.0,84.7 143.5,87.1 144.0,84.5 144.5,89.2 145.0,82.4 145.5,86.8 146.0,82.2 146.5,89.2 147.0,82.8 147.5,87.4 148.0,83.2 148.5,86.9 149.0,85.0 149.5,89.7 150.0,83.4 150.5,88.8 151.0,83.0 151.5,89.0 152.0,83.7 152.5,90.7 153.0,86.3 153.5,89.6 154.0,86.8 154.5,90.4 155.0,86.7 155.5,91.3 156.0,88.1 156.5,91.8 157.0,87.6 157.5,93.5 158.0,90.0 158.5,95.3 159.0,89.8 159.5,96.0 160.0,91.0 160.5,97.5 161.0,93.5 161.5,98.9 162.0,96.4 162.5,100.1 163.0,97.3 163.5,100.2 164.0,97.0 164.5,102.3 165.0,99.5 165.5,105.6 166.0,100.9 166.5,106.0 167.0,102.7 167.5,108.4 168.0,103.7 168.5,108.8 169.0,106.1 169.5,111.0 170.0,108.8 170.5,114.4 171.0,109.9 171.5,115.6 172.0,111.0 172.5,118.6 173.0,113.8 173.5,119.5 174.0,115.5 174.5,121.1 175.0,116.8 175.5,122.8 176.0,119.2 176.5,124.8 177.0,119.8 177.5,127.3 178.0,121.9 178.5,129.8 179.0,125.5 179.5,130.5 180.0,125.2 180.5,133.1 181.0,129.4 181.5,132.6 182.0,130.1 182.5,134.1 183.0,132.4 183.5,135.7 184.0,132.6 184.5,139.3 185.0,133.4 185.5,138.9 186.0,135.3 186.5,141.7 187.0,138.4 187.5,143.7 188.0,137.1 188.5,142.8 189.0,138.2 189.5,144.4 190.0,140.6 190.5,147.1 191.0,140.5 191.5,145.5 192.0,142.4 192.5,147.2 193.0,143.4 193.5,146.8 194.0,143.9 194.5,148.9 195.0,145.2 195.5,148.7 196.0,144.2 196.5,147.3 197.0,144.7 197.5,149.2 198.0,144.1 198.5,147.4 199.0,142.6 199.5,149.4 200.0,142.4 200.5,147.0 201.0,144.1 201.5,146.4 202.0,142.0 202.5,146.5 203.0,143.3 203.5,146.2 204.0,140.2 204.5,146.6 205.0,141.3 205.5,143.6 206.0,138.3 206.5,143.8 207.0,137.8 207.5,141.2 208.0,138.6 208.5,141.7 209.0,136.1 209.5,138.5 210.0,133.2 210.5,138.8 211.0,132.1 211.5,135.6 212.0,130.4 212.5,134.0 213.0,128.7 213.5,133.5 214.0,128.6 214.5,132.0 215.0,125.1 215.5,129.4 216.0,125.7 216.5,128.4 217.0,123.6 217.5,125.3 218.0,121.9 218.5,123.2 219.0,119.9 219.5,122.1 220.0,117.7 220.5,121.6 221.0,115.9 221.5,118.9 222.0,114.3 222.5,116.5 223.0,112.9 223.5,114.4 224.0,111.0 224.5,114.0 225.0,107.6 225.5,110.5 226.0,106.0 226.5,110.9 227.0,105.3 227.5,108.8 228.0,102.6 228.5,106.1 229.0,99.7 229.5,104.2 230.0,99.1 230.5,103.4 231.0,96.1 231.5,100.9 232.0,95.0 232.5,100.5 233.0,94.1 233.5,98.2 234.0,93.6 234.5,95.8 235.0,93.0 235.5,94.6 236.0,89.9 236.5,94.0 237.0,90.5 237.5,92.4 238.0,87.5 238.5,93.7 239.0,87.0 239.5,91.0 240.0,87.4 240.5,90.3 241.0,86.0 241.5,89.1 242.0,85.4 242.5,88.8 243.0,83.3 243.5,90.4 244.0,84.0 244.5,87.8 245.0,82.4 245.5,87.6 246.0,83.9 246.5,86.5 247.0,83.6 247.5,87.8 248.0,83.2 248.5,86.9 249.0,83.2 249.5,86.4 250.0,84.0 250.5,86.8 251.0,83.8 251.5,86.9 252.0,85.3 252.5,88.1 253.0,85.1 253.5,89.4 254.0,84.7 254.5,90.4 255.0,84.9 255.5,91.0 256.0,84.9 256.5,90.7 257.0,87.4 257.5,93.3 258.0,88.8 258.5,93.5 259.0,88.3 259.5,92.5 260.0,88.8 260.5,96.1 261.0,90.5 261.5,96.8 262.0,91.2 262.5,96.3 263.0,93.3 263.5,98.7 264.0,93.8 264.5,101.0 265.0,95.2 265.5,101.8 266.0,96.6 266.5,103.7 267.0,98.7 267.5,103.9 268.0,102.3 268.5,105.3 269.0,103.0 269.5,106.9 270.0,103.3 270.5,110.0 271.0,105.7 271.5,112.0 272.0,107.4 272.5,113.4 273.0,111.2 273.5,116.2 274.0,110.9 274.5,117.1 275.0,113.4 275.5,119.5 276.0,116.6 276.5,121.6 277.0,118.0 277.5,121.5 278.0,119.8 278.5,125.3 279.0,121.8 279.5,127.2 280.0,121.4 280.5,128.3 281.0,125.0 281.5,130.0 282.0,125.8 282.5,132.7 283.0,127.8 283.5,134.0 284.0,131.1 284.5,134.2 285.0,132.2 285.5,137.5 286.0,133.6 286.5,138.5 287.0,135.9 287.5,138.5 288.0,136.6 288.5,141.6 289.0,136.6 289.5,142.9 290.0,139.0 290.5,143.6 291.0,139.6 291.5,144.5 292.0,141.6 292.5,146.7 293.0,142.3 293.5,147.8 294.0,140.9 294.5,145.7 295.0,142.9 295.5,148.7 296.0,142.0 296.5,148.0 297.0,144.5 297.5,147.6 298.0,142.7 298.5,147.9 299.0,143.9 299.5,147.7 300.0,144.1 300.5,150.1 301.0,145.2 301.5,149.5 302.0,143.8 302.5,149.4 303.0,142.8 303.5,147.0 304.0,141.7 304.5,147.2 305.0,143.7 305.5,145.0 306.0,141.6 306.5,145.6 307.0,141.2 307.5,143.7 308.0,140.1 308.5,143.2 309.0,137.5 309.5,141.1 310.0,136.6 310.5,142.3 311.0,137.2 311.5,141.2 312.0,134.0 312.5,139.7 313.0,133.8 313.5,136.6 314.0,131.9 314.5,136.9 315.0,129.7 315.5,133.3 316.0,128.5 316.5,131.4 317.0,127.9 317.5,129.1 318.0,123.8 318.5,127.8 319.0,121.6 319.5,125.9 320.0,121.8 320.5,124.8 321.0,120.2 321.5,122.5 322.0,116.0 322.5,122.1 323.0,114.5 323.5,119.5 324.0,112.3 324.5,118.5 325.0,111.5 325.5,116.0 326.0,111.1 326.5,114.1 327.0,108.1 327.5,112.4 328.0,105.7 328.5,109.2 329.0,105.7 329.5,109.3 330.0,103.7 330.5,106.2 331.0,101.3 331.5,104.0 332.0,98.5 332.5,104.5 333.0,98.4 333.5,102.0 334.0,96.7 334.5,100.2 335.0,95.0 335.5,97.6 336.0,94.3 336.5,96.4 337.0,90.8 337.5,96.0 338.0,91.6 338.5,96.0 339.0,88.2 339.5,93.6 340.0,89.7 340.5,91.8 341.0,88.9 341.5,91.3 342.0,88.0 342.5,90.2 343.0,86.7 343.5,90.4 344.0,84.1 344.5,90.3 345.0,85.0 345.5,88.8 346.0,84.1 346.5,88.2 347.0,84.3 347.5,86.9 348.0,84.2 348.5,89.4 349.0,84.4 349.5,87.9 350.0,82.8 350.5,88.9 351.0,84.1 351.5,87.2 352.0,84.1 352.5,87.7 353.0,83.7 353.5,89.6 354.0,82.8 354.5,89.7 355.0,85.7 355.5,87.6 356.0,84.1 356.5,90.8 357.0,85.4 357.5,90.5 358.0,87.5 358.5,90.6 359.0,85.5 359.5,92.8 360.0,86.6 360.5,94.1 361.0,89.4 361.5,92.5 362.0,90.7 362.5,94.9 363.0,90.2 363.5,97.3 364.0,91.3 364.5,97.7 365.0,92.5 365.5,98.4 366.0,94.5 366.5,98.6 367.0,95.2 367.5,100.6 368.0,96.3 368.5,103.4 369.0,99.7 369.5,103.4 370.0,101.5 370.5,106.6 371.0,101.8 371.5,106.7 372.0,105.5 372.5,109.7 373.0,105.7 373.5,111.1 374.0,108.6 374.5,113.5 375.0,111.0 375.5,114.5 376.0,111.5 376.5,118.3 377.0,112.8 377.5,120.0 378.0,115.2 378.5,119.9 379.0,117.8 379.5,124.0 380.0,118.3 380.5,123.9 381.0,122.2 381.5,126.3 382.0,122.1 382.5,127.9 383.0,125.2 383.5,130.4 384.0,124.9 384.5,130.9 385.0,129.4 385.5,132.9 386.0,129.9 386.5,135.6 387.0,132.2 387.5,137.5 388.0,132.1 388.5,138.2 389.0,135.2 389.5,141.0 390.0,136.3 390.5,142.0 391.0,137.8 391.5,141.4 392.0,137.5 392.5,142.8 393.0,138.0 393.5,144.5 394.0,141.3 394.5,144.6 395.0,141.6 395.5,146.8 396.0,140.7 396.5,146.0 397.0,143.1 397.5,146.8 398.0,141.9 398.5,147.1 399.0,145.1 399.5,147.2 400.0,144.3 400.5,149.9 401.0,143.0 401.5,149.5 402.0,142.7 402.5,150.1 403.0,144.6 403.5,147.6 404.0,142.5 404.5,149.0 405.0,144.9 405.5,148.3 406.0,143.3 406.5,146.9 407.0,142.9 407.5,145.6 408.0,143.1 408.5,145.1 409.0,141.2 409.5,146.2 410.0,140.9 410.5,145.2 411.0,139.5 411.5,142.3 412.0,136.5 412.5,142.4 413.0,136.4 413.5,138.7 414.0,134.9 414.5,138.3 415.0,132.1 415.5,136.2 416.0,132.2 416.5,136.8 417.0,131.6 417.5,133.7 418.0,127.5 418.5,133.0 419.0,128.1 419.5,129.1 420.0,126.3 420.5,129.9 421.0,123.9 421.5,127.6 422.0,120.1 422.5,124.5 423.0,120.1 423.5,124.4 424.0,117.2 424.5,120.5 425.0,115.0 425.5,118.7 426.0,114.4 426.5,115.9 427.0,111.1 427.5,116.7 428.0,109.6 428.5,115.0 429.0,109.5 429.5,111.0 430.0,106.4 430.5,111.4 431.0,103.1 431.5,107.9 432.0,103.5 432.5,106.3 433.0,101.1 433.5,106.1 434.0,100.4 434.5,104.1 435.0,97.1 435.5,102.6 436.0,95.5 436.5,100.5 437.0,95.3 437.5,98.2 438.0,93.9 438.5,98.2 439.0,93.4 439.5,95.2 440.0,90.1 440.5,94.2 441.0,91.1 441.5,92.4 442.0,88.5 442.5,92.3 443.0,86.3 443.5,93.0 444.0,85.4 444.5,90.3 445.0,87.3 445.5,89.1 446.0,85.4 446.5,90.3 447.0,84.9 447.5,88.3 448.0,84.5 448.5,89.0 449.0,83.3 449.5,89.0 450.0,82.5 450.5,88.5 451.0,84.5 451.5,88.9 452.0,83.8 452.5,88.0 453.0,83.6 453.5,88.6 454.0,84.2 454.5,87.2 455.0,84.3 455.5,87.2 456.0,82.6 456.5,88.8 457.0,84.7 457.5,88.7 458.0,83.2 458.5,89.6 459.0,86.0 459.5,91.1 460.0,85.5 460.5,92.4 461.0,87.9 461.5,91.6 462.0,86.6 462.5,93.6 463.0,87.3 463.5,92.2 464.0,90.2 464.5,93.6 465.0,91.6 465.5,97.3 466.0,91.6 466.5,98.4 467.0,93.5 467.5,99.5 468.0,94.7 468.5,99.1 469.0,95.1 469.5,102.6 470.0,98.6 470.5,103.1 471.0,98.6 471.5,103.5 472.0,101.0 472.5,105.0 473.0,103.2 473.5,107.0 474.0,103.7 474.5,109.9 475.0,106.6 475.5,109.8 476.0,108.1 476.5,113.6 477.0,110.3 477.5,114.3 478.0,112.1 478.5,117.6 479.0,112.9 479.5,117.3 480.0,116.2 480.5,120.2 481.0,116.7 481.5,122.8 482.0,120.0 482.5,123.3 483.0,120.0 483.5,125.8 484.0,123.1 484.5,127.4 485.0,122.9 485.5,129.2 486.0,125.8 486.5,131.1 487.0,128.0 487.5,134.3 488.0,128.0 488.5,134.5 489.0,132.0 489.5,137.2 490.0,133.6 490.5,136.6 491.0,133.0 491.5,139.3 492.0,134.6 492.5,140.6 493.0,135.8 493.5,142.0 494.0,139.2 494.5,141.9 495.0,139.1 495.5,144.8 496.0,139.1 496.5,144.1 497.0,140.9 497.5,145.8 498.0,142.0 498.5,145.9 499.0,143.4 499.5,147.7 500.0,142.0 500.5,146.9 501.0,143.7 501.5,149.4 502.0,142.6 502.5,147.8 503.0,145.3 503.5,150.1 504.0,142.8 504.5,148.7 505.0,145.4 505.5,149.9 506.0,144.2 506.5,149.5 507.0,143.2 507.5,148.9 508.0,144.1 508.5,148.2 509.0,143.3 509.5,146.4 510.0,140.6 510.5,146.9 511.0,141.8 511.5,144.1 512.0,140.2 512.5,144.0 513.0,139.1 513.5,141.7 514.0,138.4 514.5,142.2 515.0,135.1 515.5,138.9 516.0,134.8 516.5,139.6 517.0,134.9 517.5,138.3 518.0,133.1 518.5,136.0 519.0,130.2 519.5,134.5 520.0,129.2 520.5,132.2 521.0,126.7 521.5,130.4 522.0,124.7 522.5,128.7 523.0,123.5 523.5,125.6 524.0,121.1 524.5,125.1 525.0,120.4 525.5,124.0 526.0,116.9 526.5,121.2 527.0,116.8 527.5,119.4 528.0,115.1 528.5,116.4 529.0,112.2 529.5,114.5 530.0,110.3 530.5,113.8 531.0,109.7 531.5,112.4 532.0,107.7 532.5,110.9 533.0,103.8 533.5,108.4 534.0,104.3 534.5,106.7 535.0,101.6 535.5,106.3 536.0,100.7 536.5,104.4 537.0,96.5 537.5,102.5 538.0,95.5 538.5,99.4 539.0,93.5 539.5,98.8 540.0,92.2 540.5,98.8 541.0,93.3 541.5,97.1 542.0,89.7 542.5,93.7 543.0,90.3 543.5,94.7 544.0,89.8"/>
<path fill="none" stroke="#ff00ff" stroke-opacity="0.6" stroke-width="1" d="M36.5 78.6V89.7M38.5 83.8V87.9M39.5 83.8V88.9M40.5 75.6V88.1M41.5 81.1V86.8M43.5 85.3V90.3M45.5 82.0V86.2M47.5 82.4V87.2M48.5 79.1V88.5M49.5 85.4V93.1M50.5 83.9V87.6M51.5 81.8V89.4M53.5 86.5V89.8M54.5 86.5V91.6M55.5 85.2V92.2M56.5 87.4V95.2M57.5 91.1V95.6M59.5 91.7V96.7M60.5 91.2V99.7M61.5 99.0V118.3M63.5 96.0V103.3M64.5 92.9V105.8M66.5 106.6V111.3M67.5 96.8V110.4M68.5 109.5V113.8M69.5 111.5V115.4M70.5 114.6V126.0M71.5 116.2V120.8M72.5 109.3V120.7M73.5 118.9V128.0M74.5 118.7V125.1M75.5 123.9V139.9M76.5 115.9V128.2M77.5 127.6V143.1M79.5 129.2V140.6M80.5 120.7V135.4M81.5 134.1V144.1M82.5 134.0V143.7M83.5 135.4V139.9M84.5 139.0V141.9M85.5 138.5V147.3M86.5 139.4V147.8M89.5 133.7V146.6M90.5 144.9V147.9M93.5 145.5V154.2M94.5 145.9V148.8M95.5 145.9V150.2M96.5 145.6V152.5M98.5 145.8V154.9M99.5 144.5V149.6M100.5 142.6V149.9M101.5 144.1V153.4M102.5 134.8V143.2M103.5 137.1V142.7M104.5 137.1V141.8M106.5 137.5V142.0M107.5 135.4V144.8M108.5 135.0V146.5M109.5 129.5V134.6M111.5 128.9V134.5M112.5 124.5V130.0M113.5 121.0V129.5M114.5 125.4V130.5M116.5 121.0V132.7M117.5 119.0V127.8M119.5 114.6V119.8M121.5 109.5V113.4M122.5 107.6V111.2M124.5 106.9V109.8M125.5 103.6V125.0M126.5 103.4V107.1M127.5 97.0V103.0M128.5 91.2V102.0M129.5 96.0V99.9M130.5 81.3V98.9M131.5 90.9V97.8M133.5 91.7V102.1M134.5 87.0V93.9M135.5 89.4V96.0M136.5 86.8V91.3M137.5 84.8V91.6M138.5 87.5V95.4M139.5 73.7V89.1M140.5 85.9V95.6M141.5 81.2V88.4M142.5 84.9V92.1M143.5 74.1V87.6M144.5 78.8V88.1M145.5 83.3V86.5M146.5 81.9V87.2M147.5 82.6V87.4M149.5 85.0V88.9M150.5 83.9V88.4M151.5 82.3V87.4M153.5 86.0V94.6M154.5 85.2V89.1M156.5 79.0V91.5M157.5 86.7V91.6M158.5 89.0V93.5M159.5 88.8V95.6M160.5 95.0V112.2M163.5 97.8V102.3M164.5 99.3V103.0M165.5 99.9V103.2M166.5 99.6V106.5M167.5 104.4V109.1M168.5 105.7V116.8M170.5 109.5V121.0M171.5 112.5V129.1M172.5 114.9V118.0M173.5 115.6V119.9M174.5 116.7V133.6M175.5 113.3V122.8M176.5 117.1V122.7M177.5 122.8V132.7M178.5 123.7V144.9M179.5 121.9V128.1M180.5 127.6V137.7M181.5 129.5V137.2M182.5 131.7V138.4M184.5 134.9V147.9M185.5 131.8V139.2M186.5 138.2V143.0M187.5 133.2V140.3M188.5 141.2V153.8M189.5 140.1V144.4M190.5 136.6V145.6M191.5 142.4V150.3M192.5 143.2V151.5M193.5 145.0V153.0M194.5 138.5V147.6M195.5 144.8V154.2M196.5 145.6V149.6M197.5 141.4V146.6M198.5 144.4V148.6M199.5 146.2V156.9M200.5 140.6V148.4M201.5 143.8V149.5M202.5 144.8V147.5M203.5 141.6V144.4M205.5 141.8V144.4M206.5 139.4V144.3M207.5 139.9V151.9M208.5 136.5V147.3M209.5 137.5V154.3M210.5 128.3V136.3M211.5 132.4V144.0M212.5 131.5V135.3M213.5 129.3V140.0M214.5 128.5V137.8M215.5 116.3V129.8M216.5 123.6V130.1M217.5 122.6V137.2M220.5 116.3V122.9M221.5 107.1V118.8M223.5 110.8V113.9M224.5 110.9V123.9M228.5 101.8V107.9M229.5 84.9V102.4M230.5 88.8V102.5M232.5 96.4V105.1M233.5 94.2V99.9M234.5 92.9V97.3M235.5 91.4V100.3M236.5 86.9V92.9M237.5 88.3V92.2M238.5 85.7V90.7M239.5 74.1V89.7M240.5 79.4V90.1M241.5 82.6V87.9M244.5 81.0V88.2M245.5 74.1V88.0M247.5 83.4V86.0M248.5 83.3V87.7M249.5 85.4V96.2M250.5 82.0V88.1M251.5 81.0V88.4M252.5 82.4V86.7M255.5 85.8V88.9M259.5 81.5V93.1M261.5 91.5V96.7M262.5 91.1V97.0M263.5 92.1V96.7M264.5 94.7V98.2M265.5 98.8V101.4M266.5 82.7V103.1M269.5 100.0V108.1M271.5 103.4V111.4M272.5 102.7V111.7M273.5 112.6V123.1M275.5 116.0V122.1M277.5 119.7V123.6M279.5 121.9V143.6M280.5 125.3V129.5M281.5 125.3V131.2M284.5 128.9V133.1M285.5 130.5V134.6M287.5 135.4V140.3M288.5 136.5V141.9M289.5 139.6V146.3M290.5 141.1V149.3M291.5 141.6V148.7M292.5 141.2V149.5M293.5 142.3V147.1M294.5 142.8V152.0M295.5 136.3V146.6M296.5 143.7V156.7M297.5 143.5V147.1M298.5 146.4V149.9M299.5 146.2V150.3M303.5 143.6V152.3M304.5 134.6V146.2M305.5 144.2V149.4M307.5 141.8V145.4M309.5 139.8V142.8M310.5 137.7V145.8M311.5 135.1V139.5M312.5 135.0V138.9M313.5 134.4V137.4M314.5 131.7V146.5M315.5 128.4V133.8M316.5 124.5V131.1M317.5 109.0V128.8M318.5 123.7V130.7M323.5 110.1V119.1M324.5 109.3V115.8M325.5 110.5V114.3M326.5 109.2V114.1M328.5 105.3V120.1M329.5 97.2V107.4M330.5 102.5V110.9M331.5 95.8V104.7M332.5 100.4V105.0M333.5 80.5V99.9M334.5 91.2V98.0M335.5 92.3V97.0M336.5 92.4V97.0M337.5 87.0V94.2M338.5 87.2V94.0M339.5 87.5V92.0M340.5 86.0V90.4M341.5 77.9V90.9M342.5 87.9V92.2M344.5 86.2V89.6M345.5 82.7V88.6M346.5 84.4V89.3M347.5 82.4V87.6M348.5 84.4V94.2M352.5 78.5V88.0M353.5 76.5V87.9M354.5 84.9V90.9M355.5 85.2V94.9M356.5 82.7V89.1M357.5 83.7V88.9M358.5 87.4V97.8M359.5 86.5V89.9M360.5 84.1V92.7M361.5 89.0V103.0M362.5 92.5V97.5M363.5 87.1V96.0M364.5 93.6V101.3M365.5 87.6V97.2M366.5 96.0V102.2M367.5 96.5V100.1M368.5 98.2V107.9M369.5 99.8V107.9M370.5 103.5V110.7M371.5 104.3V125.2M372.5 105.3V123.8M375.5 109.7V114.1M376.5 113.1V118.0M377.5 111.7V118.1M378.5 113.0V119.2M379.5 118.2V122.3M380.5 120.9V131.2M381.5 120.1V125.3M383.5 127.2V132.9M384.5 129.0V132.1M385.5 129.1V143.4M386.5 130.7V133.6M387.5 133.7V138.8M388.5 135.0V150.8M389.5 135.1V142.0M390.5 137.1V155.0M391.5 137.7V142.1M392.5 128.0V141.9M393.5 139.8V157.0M394.5 142.6V147.4M395.5 142.0V155.0M396.5 144.3V147.5M398.5 144.5V150.9M399.5 145.9V150.0M401.5 145.8V149.3M402.5 145.6V148.6M403.5 145.6V152.4M405.5 141.3V147.6M406.5 144.0V148.7M408.5 142.9V157.6M409.5 141.9V145.2M411.5 138.9V144.7M412.5 137.9V151.8M413.5 134.1V138.8M414.5 135.4V143.0M415.5 131.8V135.7M416.5 132.4V135.9M417.5 130.8V135.7M418.5 127.1V130.6M419.5 111.5V130.4M421.5 122.8V128.6M422.5 121.0V127.4M423.5 116.9V121.6M424.5 116.6V122.2M425.5 116.9V127.1M426.5 114.1V118.5M427.5 112.7V117.6M429.5 99.3V110.6M430.5 102.9V109.8M431.5 101.8V108.0M432.5 101.9V104.5M433.5 100.6V106.0M434.5 91.6V102.8M436.5 96.8V100.4M438.5 93.5V104.7M439.5 91.5V94.9M440.5 76.4V94.5M441.5 90.9V99.9M442.5 74.6V91.9M443.5 87.3V90.6M444.5 85.0V90.5M445.5 84.8V89.3M446.5 73.6V88.1M448.5 81.1V88.4M449.5 78.7V87.6M450.5 81.6V87.8M451.5 82.4V86.1M452.5 82.5V87.3M453.5 83.2V86.7M454.5 83.1V85.7M457.5 85.3V93.8M458.5 82.4V87.7M459.5 86.3V89.9M460.5 74.0V89.2M461.5 86.7V91.3M463.5 88.3V93.4M465.5 91.7V104.0M466.5 94.0V97.9M467.5 89.5V98.2M468.5 95.3V99.1M470.5 99.3V116.9M471.5 99.0V103.5M472.5 94.4V104.8M474.5 104.9V107.6M475.5 106.8V111.0M477.5 111.3V116.8M478.5 112.8V119.1M481.5 118.7V124.3M482.5 121.2V125.3M483.5 104.3V126.0M486.5 127.5V141.3M487.5 128.6V135.0M488.5 131.7V140.7M490.5 134.6V138.9M491.5 135.7V145.0M492.5 137.6V144.5M493.5 136.8V141.2M494.5 140.8V152.7M495.5 140.7V145.5M496.5 141.8V148.9M497.5 143.8V146.3M498.5 142.9V154.9M500.5 145.5V157.8M502.5 143.8V147.8M504.5 145.9V153.2M505.5 145.8V148.4M506.5 143.8V152.4M507.5 143.3V155.4M509.5 142.5V152.1M510.5 142.6V153.3M511.5 142.6V157.3M512.5 139.6V144.1M513.5 139.9V155.4M514.5 134.2V140.7M515.5 135.9V140.1M516.5 134.8V142.9M517.5 132.1V136.4M518.5 121.9V133.5M519.5 129.6V134.8M520.5 128.0V132.3M521.5 127.9V133.4M523.5 109.7V124.9M524.5 119.3V124.3M525.5 119.8V124.1M526.5 119.0V124.2M527.5 116.0V121.8M529.5 112.7V116.4M530.5 105.0V112.9M531.5 109.6V129.6M532.5 105.9V119.3M533.5 97.7V106.8M534.5 102.7V119.4M535.5 101.4V113.7M536.5 96.4V102.1M537.5 95.0V102.0M538.5 93.3V98.6M539.5 93.7V98.7M540.5 89.9V96.0M541.5 91.6V94.7M542.5 91.9V99.1"/>
<polyline fill="none" stroke="#0a0aee" stroke-width="3.4" points="35.5,104.36 36.5,104.07 37.5,103.81 38.5,103.59 39.5,103.42 40.5,103.29 41.5,103.20 42.5,103.16 43.5,103.16 44.5,103.20 45.5,103.29 46.5,103.42 47.5,103.59 48.5,103.81 49.5,104.07 50.5,104.36 51.5,104.70 52.5,105.08 53.5,105.49 54.5,105.94 55.5,106.42 56.5,106.93 57.5,107.47 58.5,108.04 59.5,108.63 60.5,109.25 61.5,109.89 62.5,110.55 63.5,111.22 64.5,111.91 65.5,112.60 66.5,113.31 67.5,114.02 68.5,114.73 69.5,115.45 70.5,116.16 71.5,116.86 72.5,117.56 73.5,118.25 74.5,118.92 75.5,119.58 76.5,120.22 77.5,120.84 78.5,121.43 79.5,122.00 80.5,122.55 81.5,123.06 82.5,123.54 83.5,123.99 84.5,124.40 85.5,124.78 86.5,125.12 87.5,125.42 88.5,125.68 89.5,125.90 90.5,126.07 91.5,126.21 92.5,126.30 93.5,126.34 94.5,126.35 95.5,126.30 96.5,126.22 97.5,126.09 98.5,125.92 99.5,125.70 100.5,125.45 101.5,125.15 102.5,124.82 103.5,124.44 104.5,124.03 105.5,123.59 106.5,123.11 107.5,122.60 108.5,122.06 109.5,121.49 110.5,120.90 111.5,120.28 112.5,119.64 113.5,118.99 114.5,118.31 115.5,117.63 116.5,116.93 117.5,116.23 118.5,115.52 119.5,114.80 120.5,114.09 121.5,113.38 122.5,112.67 123.5,111.98 124.5,111.29 125.5,110.61 126.5,109.95 127.5,109.31 128.5,108.69 129.5,108.10 130.5,107.53 131.5,106.98 132.5,106.47 133.5,105.98 134.5,105.53 135.5,105.12 136.5,104.74 137.5,104.40 138.5,104.09 139.5,103.83 140.5,103.61 141.5,103.43 142.5,103.30 143.5,103.21 144.5,103.16 145.5,103.15 146.5,103.19 147.5,103.28 148.5,103.40 149.5,103.57 150.5,103.78 151.5,104.04 152.5,104.33 153.5,104.67 154.5,105.04 155.5,105.45 156.5,105.89 157.5,106.37 158.5,106.88 159.5,107.41 160.5,107.98 161.5,108.57 162.5,109.19 163.5,109.83 164.5,110.48 165.5,111.15 166.5,111.84 167.5,112.53 168.5,113.24 169.5,113.95 170.5,114.66 171.5,115.37 172.5,116.09 173.5,116.79 174.5,117.49 175.5,118.18 176.5,118.85 177.5,119.51 178.5,120.15 179.5,120.78 180.5,121.37 181.5,121.95 182.5,122.49 183.5,123.01 184.5,123.49 185.5,123.95 186.5,124.36 187.5,124.74 188.5,125.09 189.5,125.39 190.5,125.66 191.5,125.88 192.5,126.06 193.5,126.20 194.5,126.29 195.5,126.34 196.5,126.35 197.5,126.31 198.5,126.23 199.5,126.10 200.5,125.94 201.5,125.73 202.5,125.48 203.5,125.18 204.5,124.85 205.5,124.48 206.5,124.08 207.5,123.63 208.5,123.16 209.5,122.65 210.5,122.11 211.5,121.55 212.5,120.96 213.5,120.34 214.5,119.71 215.5,119.05 216.5,118.38 217.5,117.70 218.5,117.00 219.5,116.30 220.5,115.59 221.5,114.87 222.5,114.16 223.5,113.45 224.5,112.74 225.5,112.04 226.5,111.36 227.5,110.68 228.5,110.02 229.5,109.38 230.5,108.76 231.5,108.16 232.5,107.58 233.5,107.03 234.5,106.52 235.5,106.03 236.5,105.58 237.5,105.16 238.5,104.77 239.5,104.43 240.5,104.12 241.5,103.86 242.5,103.63 243.5,103.45 244.5,103.31 245.5,103.21 246.5,103.16 247.5,103.15 248.5,103.19 249.5,103.27 250.5,103.39 251.5,103.55 252.5,103.76 253.5,104.01 254.5,104.30 255.5,104.63 256.5,105.00 257.5,105.40 258.5,105.84 259.5,106.32 260.5,106.82 261.5,107.36 262.5,107.92 263.5,108.51 264.5,109.13 265.5,109.76 266.5,110.41 267.5,111.08 268.5,111.77 269.5,112.46 270.5,113.17 271.5,113.88 272.5,114.59 273.5,115.30 274.5,116.01 275.5,116.72 276.5,117.42 277.5,118.11 278.5,118.79 279.5,119.45 280.5,120.09 281.5,120.71 282.5,121.31 283.5,121.89 284.5,122.44 285.5,122.96 286.5,123.45 287.5,123.90 288.5,124.32 289.5,124.71 290.5,125.06 291.5,125.36 292.5,125.63 293.5,125.86 294.5,126.04 295.5,126.18 296.5,126.28 297.5,126.34 298.5,126.35 299.5,126.32 300.5,126.24 301.5,126.12 302.5,125.96 303.5,125.75 304.5,125.50 305.5,125.21 306.5,124.89 307.5,124.52 308.5,124.12 309.5,123.68 310.5,123.21 311.5,122.70 312.5,122.17 313.5,121.61 314.5,121.02 315.5,120.41 316.5,119.77 317.5,119.12 318.5,118.45 319.5,117.77 320.5,117.07 321.5,116.37 322.5,115.66 323.5,114.95 324.5,114.23 325.5,113.52 326.5,112.81 327.5,112.11 328.5,111.42 329.5,110.75 330.5,110.09 331.5,109.44 332.5,108.82 333.5,108.21 334.5,107.64 335.5,107.09 336.5,106.57 337.5,106.08 338.5,105.62 339.5,105.20 340.5,104.81 341.5,104.46 342.5,104.15 343.5,103.88 344.5,103.65 345.5,103.47 346.5,103.32 347.5,103.22 348.5,103.16 349.5,103.15 350.5,103.18 351.5,103.26 352.5,103.37 353.5,103.54 354.5,103.74 355.5,103.98 356.5,104.27 357.5,104.60 358.5,104.96 359.5,105.36 360.5,105.80 361.5,106.27 362.5,106.77 363.5,107.30 364.5,107.87 365.5,108.45 366.5,109.06 367.5,109.70 368.5,110.35 369.5,111.02 370.5,111.70 371.5,112.39 372.5,113.10 373.5,113.81 374.5,114.52 375.5,115.23 376.5,115.94 377.5,116.65 378.5,117.35 379.5,118.04 380.5,118.72 381.5,119.38 382.5,120.03 383.5,120.65 384.5,121.26 385.5,121.83 386.5,122.39 387.5,122.91 388.5,123.40 389.5,123.86 390.5,124.28 391.5,124.67 392.5,125.02 393.5,125.33 394.5,125.61 395.5,125.84 396.5,126.03 397.5,126.17 398.5,126.27 399.5,126.33 400.5,126.35 401.5,126.32 402.5,126.25 403.5,126.13 404.5,125.97 405.5,125.77 406.5,125.53 407.5,125.25 408.5,124.92 409.5,124.56 410.5,124.16 411.5,123.72 412.5,123.26 413.5,122.75 414.5,122.22 415.5,121.66 416.5,121.08 417.5,120.47 418.5,119.84 419.5,119.19 420.5,118.52 421.5,117.84 422.5,117.14 423.5,116.44 424.5,115.73 425.5,115.02 426.5,114.30 427.5,113.59 428.5,112.88 429.5,112.18 430.5,111.49 431.5,110.81 432.5,110.15 433.5,109.50 434.5,108.88 435.5,108.27 436.5,107.69 437.5,107.14 438.5,106.62 439.5,106.12 440.5,105.66 441.5,105.24 442.5,104.85 443.5,104.49 444.5,104.18 445.5,103.91 446.5,103.67 447.5,103.48 448.5,103.33 449.5,103.23 450.5,103.17 451.5,103.15 452.5,103.18 453.5,103.25 454.5,103.36 455.5,103.52 456.5,103.72 457.5,103.96 458.5,104.24 459.5,104.56 460.5,104.92 461.5,105.32 462.5,105.75 463.5,106.22 464.5,106.72 465.5,107.25 466.5,107.81 467.5,108.39 468.5,109.00 469.5,109.63 470.5,110.28 471.5,110.95 472.5,111.63 473.5,112.32 474.5,113.03 475.5,113.73 476.5,114.45 477.5,115.16 478.5,115.87 479.5,116.58 480.5,117.28 481.5,117.97 482.5,118.65 483.5,119.32 484.5,119.96 485.5,120.59 486.5,121.20 487.5,121.78 488.5,122.33 489.5,122.86 490.5,123.35 491.5,123.81 492.5,124.24 493.5,124.63 494.5,124.99 495.5,125.31 496.5,125.58 497.5,125.82 498.5,126.01 499.5,126.16 500.5,126.27 501.5,126.33 502.5,126.35 503.5,126.33 504.5,126.26 505.5,126.15 506.5,125.99 507.5,125.79 508.5,125.56 509.5,125.28 510.5,124.96 511.5,124.60 512.5,124.20 513.5,123.77 514.5,123.30 515.5,122.81 516.5,122.28 517.5,121.72 518.5,121.14 519.5,120.53 520.5,119.90 521.5,119.25 522.5,118.58 523.5,117.90 524.5,117.21 525.5,116.51 526.5,115.80 527.5,115.09 528.5,114.38 529.5,113.66 530.5,112.95 531.5,112.25 532.5,111.56 533.5,110.88 534.5,110.22 535.5,109.57 536.5,108.94 537.5,108.33 538.5,107.75 539.5,107.20 540.5,106.67 541.5,106.17 542.5,105.71 543.5,105.28 544.5,104.88"/>
<path fill="none" stroke="#ff3030" stroke-width="1" d="M36.5 313.8V330.0M36.5 330.0V341.9M38.5 330.0V343.9M39.5 313.1V330.0M39.5 330.0V342.1M40.5 312.6V330.0M41.5 330.0V341.6M43.5 330.0V341.3M45.5 316.2V330.0M48.5 330.0V342.7M49.5 316.1V330.0M51.5 318.1V330.0M51.5 330.0V342.7M52.5 316.3V330.0M53.5 315.1V330.0M55.5 318.0V330.0M55.5 330.0V346.2M57.5 317.4V330.0M58.5 318.1V330.0M60.5 311.1V330.0M62.5 313.5V330.0M63.5 317.4V330.0M63.5 330.0V341.6M64.5 316.8V330.0M65.5 305.2V330.0M65.5 330.0V340.3M67.5 330.0V343.4M68.5 308.5V330.0M68.5 330.0V340.8M69.5 330.0V341.1M72.5 314.2V330.0M73.5 313.6V330.0M73.5 330.0V341.8M74.5 315.0V330.0M76.5 318.0V330.0M78.5 316.6V330.0M79.5 315.9V330.0M79.5 330.0V343.5M80.5 316.3V330.0M82.5 330.0V347.6M83.5 314.7V330.0M83.5 330.0V345.6M85.5 315.0V330.0M85.5 330.0V345.6M86.5 317.3V330.0M86.5 330.0V343.6M88.5 316.1V330.0M89.5 317.8V330.0M92.5 330.0V340.0M94.5 317.5V330.0M94.5 330.0V340.5M95.5 312.7V330.0M97.5 312.7V330.0M97.5 330.0V340.6M99.5 306.7V330.0M99.5 330.0V341.2M102.5 309.0V330.0M102.5 330.0V340.3M103.5 308.8V330.0M103.5 330.0V342.4M104.5 313.2V330.0M105.5 313.4V330.0M105.5 330.0V340.9M106.5 313.7V330.0M106.5 330.0V342.1M107.5 314.7V330.0M107.5 330.0V341.8M108.5 314.1V330.0M108.5 330.0V343.5M109.5 315.5V330.0M109.5 330.0V343.8M110.5 330.0V340.4M112.5 315.1V330.0M114.5 330.0V340.8M116.5 330.0V346.9M117.5 317.1V330.0M119.5 317.6V330.0M119.5 330.0V346.3M120.5 316.5V330.0M121.5 316.0V330.0M121.5 330.0V341.5M122.5 317.9V330.0M125.5 314.8V330.0M126.5 317.7V330.0M128.5 315.5V330.0M129.5 315.5V330.0M129.5 330.0V340.7M130.5 330.0V341.6M132.5 317.5V330.0M133.5 316.5V330.0M135.5 330.0V341.4M136.5 309.9V330.0M137.5 330.0V343.5M138.5 312.4V330.0M138.5 330.0V341.0M140.5 313.9V330.0M141.5 314.4V330.0M142.5 314.2V330.0M142.5 330.0V340.9M143.5 330.0V341.8M146.5 330.0V343.5M147.5 314.7V330.0M147.5 330.0V343.8M149.5 315.2V330.0M149.5 330.0V341.0M150.5 317.1V330.0M150.5 330.0V346.5M153.5 314.8V330.0M154.5 330.0V346.9M156.5 330.0V344.5M158.5 330.0V341.6M161.5 330.0V341.9M164.5 314.9V330.0M164.5 330.0V342.1M166.5 312.1V330.0M166.5 330.0V342.5M167.5 307.2V330.0M168.5 330.0V342.6M169.5 310.0V330.0M170.5 309.8V330.0M171.5 309.9V330.0M174.5 312.4V330.0M174.5 330.0V342.4M175.5 330.0V343.2M176.5 330.0V344.3M177.5 316.4V330.0M177.5 330.0V340.9M179.5 330.0V342.3M180.5 314.9V330.0M180.5 330.0V342.9M181.5 317.6V330.0M183.5 330.0V340.4M185.5 317.5V330.0M190.5 318.0V330.0M192.5 316.0V330.0M194.5 315.3V330.0M194.5 330.0V342.1M195.5 316.4V330.0M197.5 317.5V330.0M198.5 316.3V330.0M201.5 318.0V330.0M203.5 308.2V330.0M203.5 330.0V340.2M204.5 330.0V340.9M205.5 309.5V330.0M206.5 309.4V330.0M207.5 311.1V330.0M207.5 330.0V342.0M209.5 311.4V330.0M209.5 330.0V340.8M210.5 312.0V330.0M213.5 330.0V340.1M214.5 316.3V330.0M216.5 317.4V330.0M216.5 330.0V344.0M218.5 316.7V330.0M218.5 330.0V343.3M219.5 330.0V346.7M220.5 330.0V347.6M223.5 313.1V330.0M223.5 330.0V345.1M225.5 317.1V330.0M225.5 330.0V344.5M226.5 316.7V330.0M228.5 330.0V343.4M229.5 314.8V330.0M229.5 330.0V340.9M231.5 315.0V330.0M232.5 311.5V330.0M235.5 315.7V330.0M235.5 330.0V343.1M237.5 308.4V330.0M239.5 308.6V330.0M240.5 310.8V330.0M241.5 309.5V330.0M242.5 330.0V343.2M244.5 314.5V330.0M244.5 330.0V342.6M245.5 330.0V340.2M246.5 330.0V341.8M247.5 315.1V330.0M247.5 330.0V340.3M248.5 330.0V342.0M252.5 315.6V330.0M252.5 330.0V340.6M253.5 315.6V330.0M254.5 315.3V330.0M254.5 330.0V346.3M256.5 318.1V330.0M256.5 330.0V352.8M258.5 316.3V330.0M260.5 316.8V330.0M261.5 317.2V330.0M261.5 330.0V343.7M262.5 316.4V330.0M264.5 317.9V330.0M264.5 330.0V342.9M265.5 317.9V330.0M267.5 316.8V330.0M268.5 316.1V330.0M271.5 307.9V330.0M271.5 330.0V342.1M272.5 310.4V330.0M272.5 330.0V340.9M273.5 309.9V330.0M274.5 330.0V340.3M275.5 311.5V330.0M275.5 330.0V341.4M276.5 330.0V341.5M277.5 313.0V330.0M278.5 313.7V330.0M278.5 330.0V340.8M279.5 313.6V330.0M280.5 315.3V330.0M280.5 330.0V343.6M281.5 314.4V330.0M281.5 330.0V343.3M284.5 314.8V330.0M284.5 330.0V343.1M285.5 315.1V330.0M285.5 330.0V341.5M287.5 318.1V330.0M287.5 330.0V348.1M289.5 315.0V330.0M290.5 315.8V330.0M290.5 330.0V347.7M293.5 315.3V330.0M294.5 315.0V330.0M298.5 314.8V330.0M299.5 330.0V340.2M300.5 317.9V330.0M300.5 330.0V341.3M303.5 317.6V330.0M305.5 306.2V330.0M306.5 330.0V340.6M307.5 330.0V341.8M308.5 309.7V330.0M308.5 330.0V345.6M309.5 311.9V330.0M310.5 312.8V330.0M310.5 330.0V343.6M311.5 330.0V342.1M312.5 312.5V330.0M313.5 330.0V341.7M314.5 313.2V330.0M314.5 330.0V343.2M315.5 315.8V330.0M316.5 316.6V330.0M319.5 318.1V330.0M319.5 330.0V340.6M320.5 330.0V342.5M323.5 317.4V330.0M325.5 317.8V330.0M325.5 330.0V347.4M326.5 316.2V330.0M326.5 330.0V346.0M330.5 316.4V330.0M330.5 330.0V343.3M332.5 318.2V330.0M332.5 330.0V341.7M337.5 330.0V341.8M339.5 310.7V330.0M340.5 305.0V330.0M343.5 310.6V330.0M343.5 330.0V343.5M344.5 310.5V330.0M345.5 311.8V330.0M345.5 330.0V341.4M346.5 313.8V330.0M347.5 311.7V330.0M349.5 313.8V330.0M349.5 330.0V346.7M353.5 315.8V330.0M353.5 330.0V341.0M354.5 316.5V330.0M355.5 315.0V330.0M356.5 315.0V330.0M356.5 330.0V343.9M358.5 315.4V330.0M358.5 330.0V346.4M359.5 330.0V344.0M361.5 316.0V330.0M361.5 330.0V345.5M362.5 315.5V330.0M363.5 330.0V342.2M364.5 318.0V330.0M368.5 318.0V330.0M370.5 318.1V330.0M370.5 330.0V340.4M372.5 318.2V330.0M372.5 330.0V340.6M375.5 309.8V330.0M375.5 330.0V342.2M376.5 311.5V330.0M376.5 330.0V348.1M377.5 330.0V342.7M379.5 330.0V340.8M380.5 313.7V330.0M382.5 315.3V330.0M382.5 330.0V342.5M383.5 330.0V340.6M384.5 313.2V330.0M384.5 330.0V342.2M385.5 315.2V330.0M386.5 313.4V330.0M386.5 330.0V340.2M388.5 317.4V330.0M389.5 315.8V330.0M389.5 330.0V343.6M391.5 317.6V330.0M392.5 314.4V330.0M392.5 330.0V345.0M393.5 316.6V330.0M395.5 314.9V330.0M399.5 330.0V341.1M401.5 315.3V330.0M408.5 308.5V330.0M409.5 309.8V330.0M409.5 330.0V342.9M412.5 312.4V330.0M412.5 330.0V341.3M413.5 310.9V330.0M414.5 330.0V340.7M415.5 314.1V330.0M416.5 313.8V330.0M416.5 330.0V345.9M417.5 311.7V330.0M417.5 330.0V342.7M418.5 314.3V330.0M418.5 330.0V343.6M421.5 317.9V330.0M421.5 330.0V343.9M422.5 316.6V330.0M424.5 330.0V343.1M425.5 330.0V350.5M426.5 315.4V330.0M427.5 316.5V330.0M427.5 330.0V346.8M429.5 315.7V330.0M429.5 330.0V346.5M430.5 317.1V330.0M432.5 330.0V342.9M433.5 314.8V330.0M433.5 330.0V345.3M436.5 315.7V330.0M436.5 330.0V342.9M437.5 317.1V330.0M437.5 330.0V341.3M438.5 330.0V342.4M441.5 317.8V330.0M442.5 314.9V330.0M445.5 309.3V330.0M445.5 330.0V343.8M447.5 312.3V330.0M448.5 312.3V330.0M449.5 330.0V341.4M450.5 314.5V330.0M451.5 315.4V330.0M452.5 316.0V330.0M454.5 316.1V330.0M456.5 317.7V330.0M456.5 330.0V348.8M459.5 330.0V348.4M461.5 310.7V330.0M461.5 330.0V346.5M464.5 316.0V330.0M468.5 330.0V342.9M469.5 317.9V330.0M471.5 313.4V330.0M472.5 315.9V330.0M475.5 330.0V341.9M477.5 306.7V330.0M477.5 330.0V343.3M478.5 307.4V330.0M479.5 308.0V330.0M480.5 311.9V330.0M480.5 330.0V342.3M481.5 309.9V330.0M481.5 330.0V341.5M482.5 310.5V330.0M482.5 330.0V342.1M483.5 314.1V330.0M484.5 312.0V330.0M484.5 330.0V342.8M485.5 313.8V330.0M486.5 314.7V330.0M487.5 316.8V330.0M488.5 315.2V330.0M490.5 316.1V330.0M495.5 314.8V330.0M497.5 330.0V345.8M499.5 317.9V330.0M500.5 318.2V330.0M502.5 317.8V330.0M502.5 330.0V341.3M505.5 317.5V330.0M505.5 330.0V342.5M507.5 315.7V330.0M509.5 317.6V330.0M510.5 317.1V330.0M510.5 330.0V343.1M512.5 309.9V330.0M512.5 330.0V342.7M513.5 330.0V341.8M514.5 308.3V330.0M515.5 311.3V330.0M516.5 308.2V330.0M517.5 313.0V330.0M517.5 330.0V343.9M518.5 311.8V330.0M518.5 330.0V340.3M520.5 330.0V342.7M521.5 315.4V330.0M529.5 314.8V330.0M531.5 317.7V330.0M531.5 330.0V347.7M532.5 316.7V330.0M533.5 315.5V330.0M535.5 317.0V330.0M540.5 317.6V330.0M541.5 315.0V330.0M542.5 316.1V330.0"/>
<path fill="none" stroke="#ff8080" stroke-width="1" d="M35.5 312.1V330.0M35.5 330.0V340.7M37.5 311.7V330.0M37.5 330.0V340.9M38.5 312.2V330.0M40.5 330.0V341.6M41.5 314.2V330.0M43.5 316.9V330.0M45.5 330.0V342.4M46.5 317.6V330.0M46.5 330.0V340.1M48.5 316.6V330.0M49.5 330.0V348.2M52.5 330.0V344.5M53.5 330.0V342.6M57.5 330.0V341.8M58.5 330.0V346.7M60.5 330.0V343.1M62.5 330.0V340.1M64.5 330.0V342.5M66.5 307.5V330.0M66.5 330.0V342.5M67.5 306.9V330.0M69.5 309.3V330.0M70.5 311.3V330.0M70.5 330.0V341.5M71.5 313.2V330.0M71.5 330.0V342.0M72.5 330.0V342.5M74.5 330.0V343.3M75.5 314.6V330.0M75.5 330.0V343.3M76.5 330.0V342.9M78.5 330.0V343.3M80.5 330.0V341.6M82.5 314.7V330.0M88.5 330.0V345.0M89.5 330.0V342.9M90.5 316.8V330.0M90.5 330.0V342.9M92.5 315.2V330.0M95.5 330.0V342.7M100.5 308.1V330.0M100.5 330.0V342.2M101.5 309.2V330.0M101.5 330.0V340.6M104.5 330.0V340.5M110.5 315.4V330.0M112.5 330.0V344.0M114.5 317.9V330.0M116.5 311.9V330.0M117.5 330.0V345.4M120.5 330.0V344.4M122.5 330.0V343.9M124.5 316.0V330.0M124.5 330.0V342.4M125.5 330.0V342.9M126.5 330.0V341.7M128.5 330.0V343.1M130.5 318.1V330.0M132.5 330.0V343.7M133.5 330.0V343.6M135.5 306.9V330.0M136.5 330.0V343.6M137.5 311.0V330.0M139.5 311.3V330.0M139.5 330.0V342.7M140.5 330.0V341.6M141.5 330.0V342.5M143.5 314.1V330.0M144.5 317.0V330.0M144.5 330.0V341.1M146.5 315.8V330.0M151.5 314.9V330.0M151.5 330.0V347.4M153.5 330.0V345.7M154.5 318.3V330.0M156.5 317.0V330.0M158.5 317.7V330.0M159.5 317.4V330.0M159.5 330.0V341.6M161.5 315.7V330.0M162.5 316.1V330.0M162.5 330.0V341.1M167.5 330.0V340.3M168.5 307.3V330.0M169.5 330.0V341.4M170.5 330.0V342.7M171.5 330.0V342.7M172.5 311.8V330.0M172.5 330.0V340.6M173.5 312.5V330.0M173.5 330.0V342.6M175.5 313.8V330.0M176.5 312.4V330.0M179.5 315.4V330.0M181.5 330.0V341.3M183.5 315.4V330.0M185.5 330.0V346.4M186.5 313.4V330.0M186.5 330.0V345.2M187.5 316.7V330.0M187.5 330.0V345.2M189.5 317.9V330.0M189.5 330.0V343.4M190.5 330.0V344.9M192.5 330.0V344.8M195.5 330.0V343.7M197.5 330.0V340.0M198.5 330.0V343.7M200.5 315.3V330.0M200.5 330.0V343.4M201.5 330.0V340.3M204.5 307.2V330.0M205.5 330.0V343.0M206.5 330.0V340.4M208.5 308.1V330.0M208.5 330.0V341.6M210.5 330.0V343.4M211.5 313.1V330.0M211.5 330.0V346.2M212.5 315.3V330.0M212.5 330.0V341.6M213.5 317.1V330.0M214.5 330.0V341.0M219.5 315.1V330.0M220.5 317.0V330.0M222.5 315.5V330.0M222.5 330.0V347.9M226.5 330.0V344.1M228.5 315.8V330.0M231.5 330.0V343.1M232.5 330.0V342.3M233.5 316.7V330.0M233.5 330.0V341.5M237.5 330.0V340.4M238.5 307.3V330.0M238.5 330.0V342.0M239.5 330.0V341.1M240.5 330.0V342.4M241.5 330.0V342.0M242.5 313.4V330.0M243.5 313.4V330.0M243.5 330.0V341.0M245.5 315.7V330.0M246.5 314.7V330.0M248.5 316.5V330.0M250.5 315.7V330.0M250.5 330.0V343.0M253.5 330.0V346.9M257.5 317.4V330.0M257.5 330.0V342.2M258.5 330.0V345.2M260.5 330.0V344.1M262.5 330.0V344.9M265.5 330.0V342.0M267.5 330.0V342.8M268.5 330.0V342.5M270.5 316.0V330.0M270.5 330.0V342.6M273.5 330.0V340.6M274.5 310.0V330.0M276.5 310.1V330.0M277.5 330.0V342.8M279.5 330.0V342.9M282.5 314.9V330.0M282.5 330.0V340.4M289.5 330.0V346.3M291.5 314.8V330.0M291.5 330.0V346.0M293.5 330.0V345.1M294.5 330.0V346.0M296.5 316.1V330.0M296.5 330.0V344.2M298.5 330.0V343.4M299.5 317.2V330.0M302.5 316.1V330.0M302.5 330.0V343.8M303.5 330.0V340.2M305.5 330.0V340.5M306.5 308.6V330.0M307.5 310.3V330.0M309.5 330.0V341.8M311.5 312.0V330.0M312.5 330.0V343.8M313.5 313.2V330.0M315.5 330.0V340.8M316.5 330.0V343.8M317.5 317.8V330.0M317.5 330.0V347.7M320.5 315.5V330.0M322.5 316.6V330.0M322.5 330.0V346.9M323.5 330.0V346.3M328.5 316.3V330.0M328.5 330.0V343.7M333.5 314.8V330.0M333.5 330.0V341.9M334.5 316.7V330.0M334.5 330.0V342.9M336.5 315.9V330.0M336.5 330.0V342.2M337.5 313.3V330.0M339.5 330.0V342.4M340.5 330.0V343.3M341.5 308.1V330.0M341.5 330.0V340.2M342.5 308.9V330.0M342.5 330.0V340.4M344.5 330.0V342.8M346.5 330.0V342.8M347.5 330.0V342.7M348.5 315.4V330.0M348.5 330.0V341.3M350.5 316.8V330.0M350.5 330.0V342.7M351.5 315.8V330.0M351.5 330.0V341.1M354.5 330.0V340.2M355.5 330.0V340.4M359.5 316.1V330.0M362.5 330.0V344.8M363.5 317.0V330.0M364.5 330.0V344.9M366.5 315.5V330.0M366.5 330.0V342.0M368.5 330.0V342.7M373.5 315.8V330.0M373.5 330.0V343.8M377.5 310.9V330.0M378.5 306.0V330.0M378.5 330.0V343.9M379.5 313.4V330.0M380.5 330.0V341.3M381.5 315.2V330.0M381.5 330.0V343.0M383.5 316.2V330.0M385.5 330.0V341.0M388.5 330.0V340.3M391.5 330.0V347.7M393.5 330.0V344.1M395.5 330.0V342.1M397.5 315.4V330.0M397.5 330.0V344.7M398.5 314.9V330.0M398.5 330.0V343.3M399.5 315.1V330.0M401.5 330.0V340.8M402.5 317.3V330.0M402.5 330.0V343.7M404.5 317.7V330.0M404.5 330.0V342.2M405.5 315.8V330.0M405.5 330.0V342.9M407.5 316.5V330.0M407.5 330.0V342.7M408.5 330.0V343.7M410.5 309.8V330.0M410.5 330.0V340.8M411.5 311.3V330.0M411.5 330.0V346.1M413.5 330.0V342.8M414.5 311.2V330.0M415.5 330.0V341.7M420.5 316.6V330.0M420.5 330.0V340.4M422.5 330.0V341.2M424.5 315.5V330.0M425.5 317.4V330.0M426.5 330.0V345.8M430.5 330.0V341.8M432.5 317.1V330.0M434.5 314.9V330.0M434.5 330.0V341.5M438.5 317.1V330.0M439.5 315.3V330.0M439.5 330.0V342.1M441.5 330.0V346.9M442.5 330.0V342.7M443.5 309.7V330.0M443.5 330.0V340.2M444.5 308.7V330.0M444.5 330.0V341.5M446.5 309.9V330.0M446.5 330.0V341.8M447.5 330.0V340.6M448.5 330.0V343.9M449.5 314.6V330.0M450.5 330.0V341.2M451.5 330.0V342.7M452.5 330.0V343.4M454.5 330.0V340.7M458.5 317.0V330.0M458.5 330.0V343.8M459.5 317.2V330.0M463.5 315.1V330.0M463.5 330.0V342.7M464.5 330.0V344.6M466.5 317.1V330.0M466.5 330.0V344.2M468.5 317.1V330.0M469.5 330.0V340.2M471.5 330.0V343.7M472.5 330.0V342.7M473.5 315.0V330.0M473.5 330.0V344.0M475.5 317.9V330.0M478.5 330.0V340.8M479.5 330.0V343.6M483.5 330.0V343.0M485.5 330.0V342.3M486.5 330.0V340.5M487.5 330.0V343.9M488.5 330.0V343.5M490.5 330.0V342.6M492.5 314.9V330.0M492.5 330.0V343.8M493.5 316.1V330.0M493.5 330.0V345.5M495.5 330.0V345.0M497.5 316.4V330.0M499.5 330.0V345.4M500.5 330.0V341.6M504.5 316.8V330.0M504.5 330.0V341.0M507.5 330.0V340.8M509.5 330.0V341.3M513.5 309.5V330.0M514.5 330.0V340.1M515.5 330.0V341.0M516.5 330.0V344.0M519.5 314.1V330.0M519.5 330.0V342.4M520.5 312.4V330.0M521.5 330.0V341.2M523.5 318.0V330.0M523.5 330.0V344.0M525.5 315.8V330.0M525.5 330.0V340.2M526.5 314.8V330.0M526.5 330.0V343.2M528.5 316.9V330.0M528.5 330.0V350.0M529.5 330.0V347.9M532.5 330.0V347.6M533.5 330.0V350.5M535.5 330.0V345.2M537.5 317.8V330.0M537.5 330.0V341.7M538.5 314.2V330.0M538.5 330.0V343.6M540.5 330.0V341.8M541.5 330.0V340.3M542.5 330.0V342.4"/>
<polygon fill="#ff0c0c" points="35.5,319.4 37.0,320.6 38.5,321.6 40.0,323.5 41.5,323.2 43.0,325.1 44.5,323.9 46.0,325.6 47.5,327.8 49.0,324.6 50.5,326.8 52.0,323.4 53.5,324.4 55.0,327.7 56.5,326.2 58.0,324.0 59.5,326.8 61.0,325.7 62.5,327.7 64.0,328.5 65.5,321.4 67.0,323.4 68.5,319.8 70.0,321.7 71.5,321.5 73.0,325.1 74.5,325.8 76.0,323.9 77.5,328.4 79.0,328.5 80.5,325.5 82.0,327.4 83.5,323.0 85.0,324.3 86.5,323.0 88.0,323.7 89.5,325.7 91.0,323.3 92.5,323.2 94.0,327.7 95.5,324.7 97.0,325.3 98.5,328.2 100.0,316.2 101.5,322.8 103.0,320.7 104.5,323.8 106.0,323.9 107.5,325.2 109.0,324.2 110.5,323.8 112.0,325.9 113.5,326.7 115.0,327.7 116.5,326.0 118.0,326.4 119.5,326.4 121.0,328.4 122.5,324.5 124.0,324.3 125.5,327.0 127.0,327.6 128.5,323.6 130.0,324.9 131.5,328.0 133.0,325.0 134.5,318.2 136.0,321.9 137.5,320.0 139.0,322.5 140.5,323.5 142.0,322.6 143.5,326.9 145.0,326.9 146.5,325.6 148.0,324.7 149.5,325.5 151.0,328.0 152.5,325.6 154.0,325.0 155.5,323.6 157.0,324.0 158.5,323.9 160.0,323.7 161.5,326.6 163.0,324.7 164.5,323.9 166.0,322.8 167.5,324.6 169.0,320.2 170.5,321.3 172.0,319.9 173.5,319.7 175.0,321.1 176.5,324.1 178.0,325.1 179.5,325.3 181.0,327.1 182.5,323.6 184.0,324.7 185.5,325.7 187.0,327.3 188.5,324.6 190.0,323.6 191.5,324.6 193.0,326.9 194.5,325.7 196.0,323.3 197.5,328.1 199.0,328.0 200.5,325.7 202.0,315.3 203.5,316.1 205.0,319.0 206.5,323.8 208.0,321.5 209.5,323.4 211.0,323.9 212.5,323.3 214.0,327.8 215.5,324.2 217.0,328.1 218.5,327.6 220.0,325.6 221.5,323.9 223.0,323.6 224.5,327.7 226.0,323.8 227.5,326.3 229.0,325.3 230.5,325.8 232.0,327.9 233.5,323.2 235.0,325.6 236.5,315.7 238.0,319.6 239.5,321.1 241.0,323.1 242.5,322.5 244.0,322.2 245.5,324.1 247.0,325.3 248.5,322.7 250.0,322.8 251.5,326.5 253.0,323.9 254.5,327.5 256.0,325.2 257.5,327.3 259.0,324.6 260.5,327.2 262.0,325.0 263.5,325.2 265.0,328.1 266.5,326.7 268.0,325.5 269.5,326.0 271.0,322.3 272.5,320.9 274.0,322.8 275.5,324.7 277.0,325.6 278.5,325.6 280.0,322.5 281.5,323.3 283.0,328.0 284.5,326.9 286.0,323.8 287.5,325.2 289.0,323.5 290.5,327.6 292.0,324.7 293.5,326.4 295.0,324.5 296.5,327.5 298.0,328.5 299.5,326.1 301.0,328.4 302.5,326.5 304.0,328.3 305.5,317.4 307.0,321.6 308.5,321.2 310.0,322.9 311.5,323.7 313.0,326.2 314.5,326.9 316.0,325.8 317.5,327.6 319.0,327.1 320.5,327.2 322.0,327.0 323.5,326.1 325.0,324.1 326.5,327.2 328.0,325.9 329.5,324.1 331.0,328.3 332.5,326.0 334.0,322.7 335.5,323.3 337.0,326.0 338.5,323.0 340.0,317.4 341.5,317.6 343.0,323.5 344.5,323.8 346.0,321.9 347.5,323.6 349.0,322.5 350.5,324.7 352.0,326.1 353.5,323.1 355.0,326.3 356.5,326.2 358.0,327.7 359.5,323.6 361.0,328.2 362.5,327.0 364.0,324.6 365.5,325.2 367.0,324.3 368.5,324.4 370.0,325.7 371.5,325.8 373.0,323.3 374.5,319.0 376.0,320.7 377.5,318.5 379.0,324.2 380.5,321.0 382.0,323.3 383.5,321.9 385.0,326.8 386.5,324.8 388.0,327.6 389.5,326.0 391.0,322.5 392.5,324.4 394.0,328.0 395.5,323.3 397.0,326.1 398.5,326.4 400.0,326.7 401.5,322.6 403.0,324.9 404.5,325.5 406.0,323.0 407.5,326.4 409.0,318.1 410.5,320.3 412.0,320.0 413.5,320.3 415.0,322.7 416.5,326.2 418.0,323.4 419.5,324.9 421.0,325.0 422.5,324.8 424.0,325.9 425.5,325.2 427.0,323.1 428.5,326.3 430.0,326.8 431.5,323.9 433.0,326.1 434.5,328.0 436.0,328.2 437.5,326.8 439.0,327.2 440.5,327.7 442.0,324.4 443.5,317.0 445.0,319.0 446.5,318.4 448.0,323.6 449.5,324.4 451.0,326.2 452.5,322.1 454.0,322.8 455.5,325.7 457.0,324.5 458.5,323.1 460.0,327.2 461.5,323.9 463.0,327.4 464.5,327.4 466.0,324.0 467.5,327.4 469.0,325.8 470.5,327.3 472.0,324.9 473.5,323.7 475.0,325.8 476.5,326.1 478.0,318.9 479.5,322.7 481.0,320.3 482.5,321.1 484.0,321.8 485.5,324.8 487.0,327.9 488.5,325.3 490.0,325.2 491.5,323.1 493.0,322.9 494.5,327.6 496.0,325.0 497.5,323.3 499.0,328.1 500.5,326.1 502.0,324.7 503.5,323.9 505.0,327.7 506.5,325.7 508.0,323.9 509.5,322.9 511.0,325.3 512.5,319.4 514.0,321.2 515.5,324.7 517.0,321.5 518.5,324.4 520.0,322.1 521.5,327.8 523.0,322.8 524.5,326.7 526.0,328.3 527.5,327.0 529.0,322.6 530.5,325.2 532.0,327.5 533.5,325.9 535.0,325.3 536.5,322.6 538.0,325.2 539.5,327.6 541.0,327.5 542.5,324.1 544.0,325.7 544.0,338.2 542.5,337.8 541.0,337.8 539.5,335.4 538.0,335.6 536.5,332.9 535.0,337.8 533.5,337.7 532.0,335.3 530.5,333.4 529.0,336.2 527.5,337.5 526.0,337.5 524.5,332.6 523.0,332.6 521.5,337.6 520.0,338.1 518.5,338.1 517.0,333.8 515.5,337.0 514.0,338.4 512.5,336.0 511.0,337.8 509.5,333.6 508.0,334.5 506.5,333.4 505.0,335.5 503.5,337.4 502.0,337.4 500.5,333.5 499.0,333.1 497.5,335.5 496.0,334.8 494.5,336.6 493.0,337.3 491.5,335.5 490.0,336.6 488.5,334.8 487.0,337.3 485.5,335.1 484.0,333.1 482.5,336.3 481.0,333.1 479.5,332.9 478.0,332.7 476.5,336.8 475.0,335.2 473.5,337.4 472.0,334.3 470.5,334.6 469.0,332.8 467.5,338.4 466.0,335.9 464.5,337.2 463.0,334.5 461.5,336.8 460.0,335.2 458.5,337.0 457.0,334.0 455.5,336.1 454.0,335.8 452.5,332.6 451.0,334.6 449.5,336.0 448.0,335.8 446.5,336.7 445.0,335.7 443.5,335.0 442.0,335.5 440.5,338.4 439.0,337.6 437.5,333.4 436.0,334.5 434.5,337.0 433.0,336.0 431.5,336.2 430.0,337.7 428.5,332.7 427.0,334.4 425.5,334.9 424.0,333.5 422.5,337.1 421.0,337.2 419.5,332.6 418.0,334.5 416.5,333.8 415.0,335.8 413.5,335.0 412.0,338.4 410.5,335.7 409.0,338.1 407.5,335.2 406.0,333.9 404.5,335.3 403.0,332.7 401.5,337.5 400.0,335.8 398.5,338.3 397.0,334.5 395.5,333.3 394.0,335.1 392.5,337.2 391.0,333.9 389.5,337.4 388.0,337.1 386.5,333.4 385.0,338.1 383.5,333.9 382.0,337.5 380.5,338.2 379.0,333.3 377.5,333.6 376.0,338.1 374.5,336.4 373.0,337.7 371.5,335.2 370.0,334.6 368.5,336.8 367.0,333.1 365.5,332.8 364.0,338.0 362.5,333.2 361.0,332.8 359.5,335.0 358.0,333.1 356.5,334.5 355.0,335.9 353.5,335.8 352.0,337.0 350.5,335.7 349.0,333.9 347.5,334.3 346.0,335.2 344.5,335.8 343.0,333.4 341.5,337.7 340.0,333.6 338.5,337.5 337.0,334.7 335.5,335.0 334.0,335.6 332.5,335.8 331.0,334.3 329.5,337.7 328.0,334.5 326.5,334.8 325.0,333.9 323.5,334.4 322.0,337.6 320.5,336.8 319.0,337.2 317.5,338.4 316.0,335.2 314.5,335.4 313.0,336.3 311.5,335.9 310.0,336.4 308.5,332.8 307.0,337.2 305.5,336.1 304.0,333.2 302.5,333.6 301.0,334.1 299.5,336.4 298.0,335.6 296.5,338.0 295.0,338.4 293.5,338.0 292.0,337.5 290.5,333.4 289.0,334.3 287.5,336.9 286.0,336.0 284.5,336.7 283.0,335.2 281.5,334.1 280.0,335.7 278.5,334.4 277.0,335.5 275.5,334.0 274.0,332.9 272.5,335.6 271.0,336.2 269.5,333.8 268.0,338.5 266.5,335.0 265.0,333.3 263.5,337.2 262.0,336.8 260.5,338.3 259.0,336.7 257.5,334.7 256.0,333.6 254.5,337.9 253.0,335.2 251.5,338.0 250.0,337.7 248.5,333.4 247.0,333.2 245.5,333.2 244.0,336.2 242.5,333.4 241.0,333.9 239.5,334.5 238.0,336.0 236.5,332.8 235.0,336.0 233.5,334.5 232.0,335.1 230.5,334.5 229.0,332.8 227.5,336.6 226.0,337.0 224.5,337.8 223.0,335.4 221.5,332.8 220.0,333.1 218.5,333.6 217.0,333.1 215.5,333.2 214.0,338.1 212.5,334.9 211.0,337.1 209.5,337.7 208.0,335.5 206.5,336.7 205.0,334.7 203.5,336.5 202.0,334.0 200.5,335.3 199.0,335.9 197.5,334.0 196.0,335.4 194.5,332.8 193.0,336.5 191.5,333.6 190.0,333.7 188.5,337.5 187.0,334.1 185.5,336.3 184.0,333.1 182.5,336.4 181.0,333.4 179.5,333.8 178.0,336.6 176.5,333.7 175.0,332.6 173.5,337.2 172.0,334.5 170.5,334.8 169.0,336.3 167.5,335.6 166.0,333.0 164.5,335.4 163.0,336.5 161.5,337.7 160.0,333.3 158.5,334.0 157.0,336.6 155.5,338.0 154.0,334.1 152.5,332.8 151.0,334.7 149.5,333.0 148.0,334.6 146.5,333.3 145.0,334.2 143.5,334.6 142.0,337.2 140.5,336.9 139.0,334.6 137.5,337.1 136.0,336.4 134.5,334.3 133.0,334.7 131.5,333.4 130.0,334.3 128.5,338.4 127.0,335.5 125.5,336.2 124.0,333.3 122.5,336.7 121.0,337.8 119.5,333.8 118.0,335.1 116.5,336.3 115.0,337.0 113.5,333.0 112.0,334.6 110.5,336.3 109.0,335.9 107.5,336.3 106.0,332.6 104.5,334.8 103.0,333.9 101.5,334.3 100.0,337.4 98.5,337.1 97.0,337.1 95.5,334.1 94.0,336.9 92.5,334.4 91.0,335.1 89.5,334.7 88.0,333.4 86.5,333.5 85.0,335.0 83.5,335.5 82.0,334.3 80.5,336.5 79.0,332.7 77.5,334.8 76.0,335.5 74.5,336.3 73.0,338.1 71.5,333.2 70.0,334.8 68.5,336.6 67.0,333.7 65.5,336.3 64.0,336.7 62.5,332.6 61.0,337.8 59.5,334.1 58.0,332.6 56.5,333.5 55.0,336.0 53.5,334.2 52.0,333.3 50.5,334.9 49.0,335.8 47.5,338.3 46.0,332.5 44.5,336.3 43.0,334.9 41.5,335.2 40.0,333.0 38.5,337.3 37.0,335.2 35.5,334.3"/>
<path fill="none" stroke="#ff00ff" stroke-width="1" d="M30.5 115.5H35M31 116v1M28 118.5l3-2.5 3 2.5-3 2.5z"/>
<path fill="none" stroke="#ff3030" stroke-width="1" d="M30.5 329.5H35M31 330v1M28 332.5l3-2.5 3 2.5-3 2.5z"/>
<text transform="translate(36.50 16.00) scale(0.880 1)" fill="#ff00ff" stroke="#ff00ff" stroke-width="0.25" font-family="Liberation Sans, sans-serif" font-weight="bold" font-size="8.80" text-anchor="middle"><tspan x="2.56" y="0">I</tspan><tspan x="7.67" y="0">1</tspan><tspan x="33.24" y="0">5</tspan><tspan x="38.35" y="0">.</tspan><tspan x="43.47" y="0">0</tspan><tspan x="48.58" y="0">0</tspan><tspan x="53.69" y="0">0</tspan><tspan x="63.92" y="0">A</tspan></text>
<text transform="translate(36.50 211.90) scale(0.880 1)" fill="#ff00ff" stroke="#ff00ff" stroke-width="0.25" font-family="Liberation Sans, sans-serif" font-weight="bold" font-size="8.80" text-anchor="middle"><tspan x="2.56" y="0">I</tspan><tspan x="7.67" y="0">1</tspan><tspan x="28.12" y="0">-</tspan><tspan x="33.24" y="0">5</tspan><tspan x="38.35" y="0">.</tspan><tspan x="43.47" y="0">0</tspan><tspan x="48.58" y="0">0</tspan><tspan x="53.69" y="0">0</tspan><tspan x="63.92" y="0">A</tspan></text>
<text transform="translate(36.20 220.80) scale(0.880 1)" fill="#000" stroke="#000" stroke-width="0.25" font-family="Liberation Sans, sans-serif" font-weight="bold" font-size="8.80" text-anchor="middle"><tspan x="2.53" y="0">0</tspan><tspan x="7.59" y="0">.</tspan><tspan x="12.64" y="0">0</tspan><tspan x="17.70" y="0">0</tspan><tspan x="22.76" y="0">0</tspan><tspan x="27.81" y="0">s</tspan></text>
<text transform="translate(254.30 220.70) scale(0.880 1)" fill="#1a1ae6" stroke="#1a1ae6" stroke-width="0.25" font-family="Liberation Sans, sans-serif" font-weight="bold" font-size="8.80" text-anchor="middle"><tspan x="2.53" y="0">&lt;</tspan><tspan x="7.59" y="0">&lt;</tspan><tspan x="17.70" y="0">1</tspan><tspan x="22.76" y="0">6</tspan><tspan x="27.81" y="0">0</tspan><tspan x="32.87" y="0">2</tspan><tspan x="42.98" y="-0.6" font-size="7.22">(</tspan><tspan x="48.04" y="0">p</tspan><tspan x="53.10" y="0">-</tspan><tspan x="58.15" y="0">p</tspan><tspan x="63.21" y="-0.6" font-size="7.22">)</tspan><tspan x="73.32" y="0">&gt;</tspan><tspan x="78.38" y="0">&gt;</tspan></text>
<text transform="translate(239.00 229.50) scale(0.880 1)" fill="#1a1ae6" stroke="#1a1ae6" stroke-width="0.25" font-family="Liberation Sans, sans-serif" font-weight="bold" font-size="8.20" text-anchor="middle"><tspan x="2.53" y="-0.6" font-size="6.72">(</tspan><tspan x="17.70" y="0">0</tspan><tspan x="27.81" y="0">-</tspan><tspan x="37.93" y="0">1</tspan><tspan x="42.98" y="0">0</tspan><tspan x="48.04" y="0">0</tspan><tspan x="53.10" y="-0.6" font-size="6.72">)</tspan></text>
<text transform="translate(501.20 220.60) scale(0.880 1)" fill="#000" stroke="#000" stroke-width="0.25" font-family="Liberation Sans, sans-serif" font-weight="bold" font-size="8.80" text-anchor="middle"><tspan x="2.53" y="0">1</tspan><tspan x="7.59" y="0">0</tspan><tspan x="12.64" y="0">0</tspan><tspan x="17.70" y="0">.</tspan><tspan x="22.76" y="0">0</tspan><tspan x="27.81" y="0">0</tspan><tspan x="32.87" y="0">0</tspan><tspan x="37.93" y="0">m</tspan><tspan x="42.98" y="0">s</tspan></text>
<text transform="translate(254.30 435.30) scale(0.880 1)" fill="#1a1ae6" stroke="#1a1ae6" stroke-width="0.25" font-family="Liberation Sans, sans-serif" font-weight="bold" font-size="8.80" text-anchor="middle"><tspan x="2.53" y="0">&lt;</tspan><tspan x="7.59" y="0">&lt;</tspan><tspan x="17.70" y="0">1</tspan><tspan x="22.76" y="0">6</tspan><tspan x="27.81" y="0">0</tspan><tspan x="32.87" y="0">2</tspan><tspan x="42.98" y="-0.6" font-size="7.22">(</tspan><tspan x="48.04" y="0">p</tspan><tspan x="53.10" y="0">-</tspan><tspan x="58.15" y="0">p</tspan><tspan x="63.21" y="-0.6" font-size="7.22">)</tspan><tspan x="73.32" y="0">&gt;</tspan><tspan x="78.38" y="0">&gt;</tspan></text>
<text transform="translate(501.20 434.70) scale(0.880 1)" fill="#000" stroke="#000" stroke-width="0.25" font-family="Liberation Sans, sans-serif" font-weight="bold" font-size="8.80" text-anchor="middle"><tspan x="2.53" y="0">1</tspan><tspan x="7.59" y="0">0</tspan><tspan x="12.64" y="0">0</tspan><tspan x="17.70" y="0">.</tspan><tspan x="22.76" y="0">0</tspan><tspan x="27.81" y="0">0</tspan><tspan x="32.87" y="0">0</tspan><tspan x="37.93" y="0">m</tspan><tspan x="42.98" y="0">s</tspan></text>
<text x="361.5" y="55.7" class="s" font-size="13.3">5A /Div</text>
<text x="119.5" y="148.5" class="s" font-size="13.3">600V /Div</text>
<text x="469.5" y="188.8" class="s" font-size="13.3">0.01sec/Div</text>
<text x="472.5" y="409.0" class="s" font-size="13.3">0.01sec/Div</text>
<text x="324.0" y="286.7" class="s" font-size="13.2">100mA /Div</text>
<text x="373.3" y="72.2" class="s" font-size="13">i<tspan font-size="8" dy="1.3" dx="0.8" style="stroke-width:0.12px">inv</tspan></text>
<text x="138.5" y="127" class="s" font-size="13">V<tspan font-size="9" dy="2.5" style="stroke-width:0.15px">g</tspan></text>
<text x="285.3" y="285.2" class="s" font-size="14.5">I<tspan font-size="10" dy="1" dx="-0.8" style="stroke-width:0.15px">leakage</tspan></text>
<text x="8.5" y="74.2" class="s" font-size="17">i<tspan font-size="12" dy="1.3">inv</tspan></text>
<text x="6.5" y="97" class="s" font-size="16">V<tspan font-size="11" dy="3" style="stroke-width:0.2px">g</tspan></text>
<text transform="translate(19.3 312.2) rotate(-90)" class="s" font-size="18.5">I<tspan font-size="12" dy="1">leakage</tspan></text>
<path fill="none" stroke="#111" stroke-width="1.10" d="M17.5 58.8L17.5 45.5"/><path fill="#111" d="M17.5 40.0L13.4 47.3L17.5 45.5L21.6 47.3Z"/>
<path fill="none" stroke="#111" stroke-width="1.10" d="M18.1 256.6L18.1 243.6"/><path fill="#111" d="M18.1 238.3L14.2 245.3L18.1 243.6L22.0 245.3Z"/>
<path fill="none" stroke="#111" stroke-width="1.10" d="M144.5 115.6L144.5 107.8"/><path fill="#111" d="M144.5 102.0L140.6 109.7L144.5 107.8L148.4 109.7Z"/>
<path fill="none" stroke="#111" stroke-width="1.10" d="M367.7 67.2L358.5 77.3"/><path fill="#111" d="M355.0 81.2L357.0 73.7L358.5 77.3L362.4 78.4Z"/>
<path fill="none" stroke="#111" stroke-width="1.10" d="M291.4 293.2L282.1 303.3"/><path fill="#111" d="M278.5 307.2L280.5 299.7L282.1 303.3L286.2 304.4Z"/></svg>
</body></html>
